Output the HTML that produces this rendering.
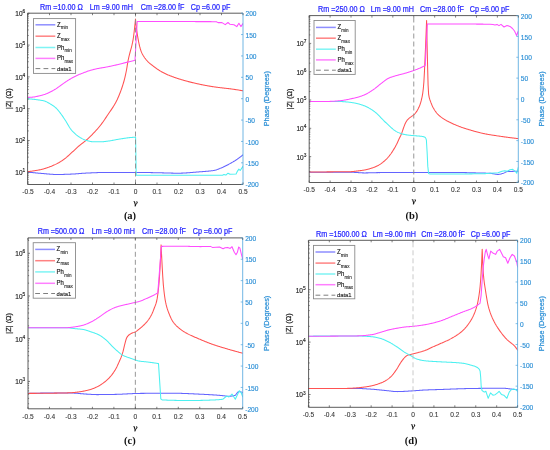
<!DOCTYPE html>
<html><head><meta charset="utf-8"><title>Impedance plots</title>
<style>html,body{margin:0;padding:0;background:#fff;}svg{display:block;}</style></head>
<body><svg width="550" height="450" viewBox="0 0 550 450">
<rect width="550" height="450" fill="#fff"/>
<clipPath id="clipa"><rect x="28" y="12.2" width="215" height="173"/></clipPath>
<g clip-path="url(#clipa)" fill="none" stroke-width="1.05" stroke-linejoin="round" stroke-linecap="round">
<path d="M28,172.1L28.5,172.16L29,172.21L29.5,172.26L30,172.32L30.5,172.37L31,172.42L31.5,172.48L32,172.53L32.5,172.58L33,172.63L33.5,172.68L34,172.73L34.5,172.78L35,172.83L35.5,172.88L36,172.93L36.5,172.97L37,173.02L37.5,173.07L38,173.11L38.5,173.16L39,173.2L39.5,173.25L40,173.29L40.5,173.33L41,173.38L41.5,173.42L42,173.46L42.5,173.5L43,173.54L43.51,173.58L44.01,173.63L44.51,173.67L45.02,173.72L45.52,173.76L46.02,173.81L46.53,173.86L47.03,173.9L47.53,173.95L48.04,173.99L48.54,174.04L49.04,174.08L49.55,174.13L50.05,174.17L50.56,174.21L51.06,174.25L51.56,174.28L52.07,174.32L52.57,174.35L53.07,174.38L53.58,174.41L54.08,174.43L54.58,174.45L55.09,174.47L55.59,174.48L56.09,174.49L56.6,174.5L57.1,174.5L57.62,174.5L58.14,174.5L58.65,174.49L59.17,174.49L59.69,174.48L60.21,174.47L60.73,174.46L61.24,174.45L61.76,174.44L62.28,174.43L62.8,174.42L63.31,174.4L63.83,174.39L64.35,174.37L64.87,174.35L65.39,174.34L65.9,174.32L66.42,174.3L66.94,174.28L67.46,174.26L67.97,174.24L68.49,174.22L69.01,174.2L69.53,174.18L70.05,174.16L70.56,174.14L71.08,174.12L71.6,174.1L72.1,174.08L72.61,174.05L73.11,174.03L73.61,174L74.12,173.97L74.62,173.94L75.12,173.9L75.63,173.87L76.13,173.83L76.63,173.79L77.14,173.75L77.64,173.71L78.14,173.67L78.65,173.63L79.15,173.59L79.66,173.55L80.16,173.51L80.66,173.47L81.17,173.43L81.67,173.39L82.17,173.35L82.68,173.31L83.18,173.28L83.68,173.24L84.19,173.21L84.69,173.18L85.19,173.15L85.7,173.12L86.2,173.1L86.71,173.08L87.21,173.05L87.72,173.03L88.23,173.01L88.73,172.99L89.24,172.96L89.75,172.94L90.26,172.92L90.76,172.89L91.27,172.87L91.78,172.85L92.28,172.83L92.79,172.8L93.3,172.78L93.8,172.76L94.31,172.74L94.82,172.72L95.33,172.7L95.83,172.68L96.34,172.66L96.85,172.64L97.35,172.62L97.86,172.6L98.37,172.58L98.87,172.57L99.38,172.55L99.89,172.53L100.4,172.52L100.9,172.5L101.41,172.49L101.92,172.48L102.42,172.47L102.93,172.46L103.44,172.45L103.94,172.44L104.45,172.43L104.96,172.42L105.47,172.41L105.97,172.41L106.48,172.41L106.99,172.4L107.49,172.4L108,172.4L108.5,172.4L109,172.4L109.5,172.4L110,172.4L110.5,172.4L111,172.4L111.5,172.4L112,172.4L112.5,172.4L113,172.4L113.5,172.4L114,172.4L114.5,172.4L115,172.4L115.5,172.4L116,172.4L116.5,172.4L117,172.4L117.5,172.4L118,172.4L118.5,172.4L119,172.4L119.5,172.4L120,172.4L120.5,172.4L121,172.4L121.5,172.4L122,172.4L122.5,172.4L123,172.4L123.5,172.4L124,172.4L124.5,172.4L125,172.4L125.5,172.4L126,172.4L126.5,172.4L127,172.4L127.5,172.4L128,172.4L128.5,172.4L129,172.4L129.5,172.4L130,172.4L130.5,172.4L131,172.4L131.5,172.4L132,172.4L132.5,172.4L133,172.4L133.5,172.4L134,172.4L134.5,172.4L135,172.4L135.5,172.4L136,172.4L136.5,172.4L137,172.4L137.5,172.4L138,172.4L138.5,172.41L139,172.41L139.5,172.41L140,172.42L140.5,172.42L141,172.43L141.5,172.43L142,172.44L142.5,172.45L143,172.45L143.5,172.46L144,172.47L144.5,172.48L145,172.49L145.5,172.49L146,172.5L146.5,172.51L147,172.52L147.5,172.53L148,172.54L148.5,172.55L149,172.56L149.5,172.57L150,172.58L150.5,172.6L151,172.61L151.5,172.62L152,172.63L152.5,172.64L153,172.65L153.5,172.66L154,172.67L154.5,172.68L155,172.7L155.5,172.71L156,172.72L156.5,172.73L157,172.74L157.5,172.75L158,172.76L158.5,172.77L159,172.78L159.5,172.79L160,172.8L160.5,172.81L161,172.82L161.5,172.83L162,172.84L162.5,172.86L163,172.87L163.5,172.88L164,172.9L164.5,172.91L165,172.93L165.5,172.94L166,172.95L166.5,172.97L167,172.98L167.5,173L168,173.01L168.5,173.03L169,173.04L169.5,173.06L170,173.07L170.5,173.08L171,173.1L171.5,173.11L172,173.12L172.5,173.13L173,173.14L173.5,173.15L174,173.16L174.5,173.17L175,173.18L175.5,173.18L176,173.19L176.5,173.19L177,173.2L177.5,173.2L178,173.2L178.5,173.2L179,173.19L179.5,173.19L180,173.18L180.5,173.17L181,173.16L181.5,173.14L182,173.12L182.5,173.11L183,173.08L183.5,173.06L184,173.04L184.5,173.01L185,172.98L185.5,172.95L186,172.92L186.5,172.89L187,172.86L187.5,172.82L188,172.79L188.5,172.75L189,172.71L189.5,172.68L190,172.64L190.5,172.6L191,172.56L191.5,172.51L192,172.47L192.5,172.43L193,172.39L193.5,172.34L194,172.3L194.5,172.26L195,172.22L195.5,172.17L196,172.13L196.5,172.09L197,172.04L197.5,172L198,171.96L198.5,171.92L199,171.88L199.5,171.84L200,171.8L200.5,171.76L201.01,171.72L201.51,171.69L202.01,171.65L202.52,171.61L203.02,171.58L203.53,171.54L204.03,171.5L204.53,171.46L205.04,171.43L205.54,171.39L206.04,171.35L206.55,171.31L207.05,171.26L207.56,171.22L208.06,171.17L208.56,171.12L209.07,171.07L209.57,171.02L210.07,170.97L210.58,170.91L211.08,170.85L211.59,170.79L212.09,170.72L212.59,170.65L213.1,170.58L213.6,170.5L214.11,170.41L214.62,170.3L215.14,170.18L215.65,170.04L216.16,169.88L216.68,169.72L217.19,169.54L217.7,169.36L218.21,169.16L218.72,168.96L219.24,168.75L219.75,168.55L220.26,168.33L220.78,168.12L221.29,167.91L221.8,167.7L222.31,167.49L222.83,167.27L223.34,167.04L223.85,166.8L224.36,166.56L224.88,166.31L225.39,166.06L225.9,165.8L226.41,165.53L226.93,165.26L227.44,164.99L227.95,164.72L228.46,164.44L228.97,164.16L229.49,163.88L230,163.6L230.52,163.31L231.05,163.02L231.57,162.72L232.09,162.42L232.62,162.12L233.14,161.81L233.66,161.5L234.18,161.18L234.71,160.86L235.23,160.53L235.75,160.19L236.28,159.85L236.8,159.5L237.32,159.15L237.83,158.79L238.35,158.42L238.87,158.05L239.38,157.66L239.9,157.27L240.42,156.88L240.93,156.47L241.45,156.06L241.97,155.65L242.48,155.23L243,154.8" stroke="#6363ff"/>
<path d="M28,171.6L28.52,171.54L29.04,171.48L29.56,171.42L30.09,171.36L30.61,171.29L31.13,171.22L31.65,171.15L32.17,171.08L32.69,171L33.21,170.92L33.74,170.84L34.26,170.76L34.78,170.68L35.3,170.6L35.81,170.52L36.33,170.43L36.84,170.34L37.36,170.26L37.87,170.17L38.39,170.07L38.9,169.98L39.41,169.88L39.93,169.77L40.44,169.67L40.96,169.56L41.47,169.44L41.99,169.32L42.5,169.2L43.02,169.07L43.54,168.93L44.06,168.78L44.59,168.62L45.11,168.46L45.63,168.29L46.15,168.12L46.67,167.94L47.19,167.76L47.71,167.57L48.24,167.38L48.76,167.19L49.28,167L49.8,166.8L50.32,166.6L50.84,166.4L51.36,166.2L51.89,165.99L52.41,165.77L52.93,165.55L53.45,165.33L53.97,165.1L54.49,164.87L55.01,164.62L55.54,164.38L56.06,164.13L56.58,163.87L57.1,163.6L57.62,163.33L58.14,163.04L58.66,162.75L59.19,162.45L59.71,162.14L60.23,161.82L60.75,161.5L61.27,161.16L61.79,160.82L62.31,160.47L62.84,160.11L63.36,159.75L63.88,159.38L64.4,159L64.91,158.61L65.43,158.21L65.94,157.79L66.46,157.36L66.97,156.91L67.49,156.46L68,156L68.51,155.53L69.03,155.06L69.54,154.58L70.06,154.11L70.57,153.63L71.09,153.16L71.6,152.7L72.12,152.23L72.64,151.75L73.16,151.27L73.69,150.78L74.21,150.29L74.73,149.8L75.25,149.31L75.77,148.82L76.29,148.33L76.81,147.85L77.34,147.38L77.86,146.91L78.38,146.45L78.9,146L79.42,145.56L79.94,145.14L80.46,144.72L80.99,144.31L81.51,143.91L82.03,143.51L82.55,143.12L83.07,142.72L83.59,142.32L84.11,141.91L84.64,141.5L85.16,141.08L85.68,140.65L86.2,140.2L86.72,139.74L87.24,139.28L87.76,138.81L88.29,138.33L88.81,137.85L89.33,137.36L89.85,136.86L90.37,136.35L90.89,135.84L91.41,135.33L91.94,134.8L92.46,134.27L92.98,133.74L93.5,133.2L94.01,132.66L94.53,132.12L95.04,131.57L95.56,131.01L96.07,130.45L96.59,129.88L97.1,129.31L97.61,128.72L98.13,128.13L98.64,127.52L99.16,126.91L99.67,126.28L100.19,125.65L100.7,125L101.22,124.33L101.74,123.64L102.26,122.93L102.79,122.2L103.31,121.47L103.83,120.72L104.35,119.96L104.87,119.19L105.39,118.41L105.91,117.63L106.44,116.85L106.96,116.07L107.48,115.28L108,114.5L108.5,113.76L109,113.02L109.5,112.29L110,111.57L110.5,110.84L111,110.11L111.5,109.38L112,108.64L112.5,107.88L113,107.11L113.5,106.32L114,105.51L114.5,104.68L115,103.81L115.5,102.92L116,102L116.5,101.03L117,100.02L117.5,98.95L118,97.84L118.5,96.69L119,95.5L119.5,94.27L120,93L120.5,91.7L121,90.36L121.5,88.97L122,87.52L122.5,86.01L123,84.43L123.5,82.76L124,81L124.5,79.11L125,77.06L125.5,74.85L126,72.5L126.5,70L127,67.08L127.5,63.88L128,61L128.5,58.63L129,56.49L129.5,54.48L130,52.5L130.5,50.62L131,48.86L131.5,47.05L132,45L132.5,42.67L133,40.04L133.5,37L134.1,32.39L134.7,27L135.5,19L136.1,25.18L136.7,30.3L137.35,34.6L138,38.3L138.65,41.89L139.3,45L139.8,46.97L140.3,48.75L140.8,50.34L141.3,51.7L141.8,52.88L142.3,53.92L142.8,54.85L143.3,55.7L143.8,56.49L144.3,57.25L144.8,57.96L145.3,58.63L145.8,59.27L146.3,59.88L146.8,60.46L147.3,61L147.84,61.56L148.38,62.09L148.92,62.6L149.46,63.08L150,63.55L150.54,64L151.08,64.43L151.62,64.86L152.16,65.28L152.7,65.7L153.22,66.1L153.73,66.49L154.25,66.88L154.77,67.26L155.28,67.64L155.8,68.02L156.32,68.39L156.83,68.76L157.35,69.11L157.87,69.47L158.38,69.81L158.9,70.15L159.42,70.48L159.93,70.8L160.45,71.11L160.97,71.42L161.48,71.71L162,72L162.5,72.27L163,72.53L163.5,72.79L164,73.04L164.5,73.29L165,73.54L165.5,73.78L166,74.01L166.5,74.24L167,74.47L167.5,74.69L168,74.9L168.5,75.11L169,75.32L169.5,75.53L170,75.73L170.5,75.92L171,76.11L171.5,76.3L172,76.48L172.5,76.67L173,76.85L173.5,77.03L174,77.21L174.5,77.38L175,77.56L175.5,77.73L176,77.9L176.5,78.07L177,78.23L177.5,78.4L178,78.56L178.5,78.72L179,78.88L179.5,79.04L180,79.2L180.5,79.35L181,79.51L181.5,79.66L182,79.81L182.5,79.96L183,80.11L183.5,80.25L184,80.4L184.5,80.54L185,80.68L185.5,80.82L186,80.96L186.5,81.09L187,81.23L187.5,81.36L188,81.49L188.5,81.62L189,81.75L189.5,81.88L190,82.01L190.5,82.13L191,82.26L191.5,82.38L192,82.5L192.5,82.62L193,82.74L193.5,82.86L194,82.97L194.5,83.09L195,83.21L195.5,83.32L196,83.44L196.5,83.55L197,83.66L197.5,83.77L198,83.88L198.5,83.99L199,84.1L199.5,84.21L200,84.31L200.5,84.42L201,84.52L201.5,84.62L202,84.73L202.5,84.83L203,84.93L203.5,85.03L204,85.12L204.5,85.22L205,85.32L205.5,85.41L206,85.51L206.5,85.6L207,85.69L207.5,85.78L208,85.87L208.5,85.96L209,86.05L209.5,86.13L210,86.22L210.5,86.3L211,86.38L211.5,86.46L212,86.54L212.5,86.62L213,86.7L213.5,86.78L214.01,86.85L214.51,86.93L215.02,87L215.52,87.07L216.03,87.14L216.53,87.2L217.04,87.27L217.54,87.34L218.05,87.4L218.55,87.46L219.06,87.53L219.56,87.59L220.07,87.65L220.57,87.71L221.08,87.77L221.58,87.82L222.09,87.88L222.59,87.94L223.1,88L223.6,88.06L224.11,88.11L224.61,88.17L225.12,88.23L225.62,88.29L226.13,88.34L226.63,88.4L227.14,88.46L227.64,88.52L228.15,88.58L228.65,88.64L229.16,88.7L229.66,88.76L230.17,88.83L230.67,88.89L231.18,88.96L231.68,89.02L232.19,89.09L232.69,89.16L233.2,89.23L233.7,89.3L234.22,89.37L234.73,89.45L235.25,89.53L235.77,89.61L236.28,89.69L236.8,89.77L237.32,89.85L237.83,89.93L238.35,90.02L238.87,90.1L239.38,90.19L239.9,90.27L240.42,90.36L240.93,90.45L241.45,90.53L241.97,90.62L242.48,90.71L243,90.8" stroke="#ff5252"/>
<path d="M28,98.8L28.5,98.83L29.01,98.86L29.51,98.89L30.02,98.93L30.52,98.97L31.03,99.01L31.53,99.06L32.04,99.11L32.54,99.16L33.05,99.21L33.55,99.27L34.05,99.33L34.56,99.39L35.06,99.45L35.57,99.51L36.07,99.58L36.58,99.65L37.08,99.72L37.59,99.79L38.09,99.86L38.6,99.93L39.1,100L39.61,100.07L40.12,100.15L40.63,100.23L41.14,100.32L41.65,100.41L42.15,100.5L42.66,100.6L43.17,100.71L43.68,100.83L44.19,100.96L44.7,101.1L45.2,101.26L45.7,101.45L46.2,101.66L46.7,101.9L47.2,102.15L47.7,102.43L48.2,102.71L48.7,103L49.2,103.3L49.7,103.6L50.2,103.9L50.73,104.21L51.25,104.53L51.78,104.86L52.31,105.2L52.84,105.55L53.36,105.91L53.89,106.29L54.42,106.69L54.95,107.1L55.47,107.54L56,108L56.5,108.47L57,108.99L57.5,109.54L58,110.12L58.5,110.73L59,111.37L59.5,112.01L60,112.67L60.5,113.34L61,114L61.51,114.69L62.02,115.41L62.54,116.15L63.05,116.9L63.56,117.67L64.07,118.45L64.59,119.22L65.1,120L65.6,120.77L66.1,121.58L66.6,122.42L67.1,123.26L67.6,124.12L68.1,124.97L68.6,125.82L69.1,126.65L69.6,127.45L70.1,128.21L70.6,128.93L71.1,129.6L71.6,130.2L72.12,130.79L72.64,131.35L73.16,131.9L73.69,132.43L74.21,132.94L74.73,133.43L75.25,133.9L75.77,134.36L76.29,134.79L76.81,135.21L77.34,135.61L77.86,135.99L78.38,136.35L78.9,136.7L79.42,137.03L79.94,137.36L80.46,137.69L80.99,138L81.51,138.31L82.03,138.6L82.55,138.89L83.07,139.15L83.59,139.41L84.11,139.65L84.64,139.86L85.16,140.06L85.68,140.24L86.2,140.4L86.72,140.55L87.24,140.69L87.76,140.83L88.29,140.97L88.81,141.11L89.33,141.24L89.85,141.35L90.37,141.46L90.89,141.56L91.41,141.64L91.94,141.71L92.46,141.76L92.98,141.79L93.5,141.8L94.01,141.8L94.53,141.8L95.04,141.8L95.56,141.8L96.07,141.8L96.59,141.8L97.1,141.8L97.61,141.8L98.13,141.8L98.64,141.8L99.16,141.8L99.67,141.8L100.19,141.8L100.7,141.8L101.22,141.79L101.74,141.78L102.26,141.75L102.79,141.71L103.31,141.67L103.83,141.62L104.35,141.56L104.87,141.5L105.39,141.43L105.91,141.37L106.44,141.3L106.96,141.23L107.48,141.16L108,141.1L108.5,141.04L109,140.97L109.5,140.9L110,140.82L110.5,140.74L111,140.65L111.5,140.57L112,140.47L112.5,140.38L113,140.29L113.5,140.19L114,140.1L114.5,140L115,139.9L115.5,139.8L116,139.71L116.5,139.61L117,139.52L117.5,139.42L118,139.33L118.5,139.24L119,139.16L119.5,139.08L120,139L120.5,138.92L121,138.85L121.5,138.77L122,138.69L122.5,138.61L123,138.54L123.5,138.46L124,138.38L124.5,138.3L125,138.23L125.5,138.16L126,138.08L126.5,138.01L127,137.94L127.5,137.88L128,137.81L128.5,137.75L129,137.69L129.5,137.63L130,137.58L130.5,137.53L131,137.48L131.5,137.44L132,137.4L132.51,137.36L133.03,137.33L133.54,137.3L134.06,137.27L134.57,137.24L135.09,137.22L135.6,137.2L136.2,175.2L136.71,175.2L137.21,175.21L137.72,175.21L138.23,175.21L138.73,175.22L139.24,175.22L139.74,175.22L140.25,175.23L140.76,175.23L141.26,175.23L141.77,175.24L142.28,175.24L142.78,175.24L143.29,175.24L143.8,175.25L144.3,175.25L144.81,175.25L145.31,175.26L145.82,175.26L146.33,175.26L146.83,175.26L147.34,175.27L147.85,175.27L148.35,175.27L148.86,175.27L149.37,175.28L149.87,175.28L150.38,175.28L150.89,175.28L151.39,175.28L151.9,175.29L152.4,175.29L152.91,175.29L153.42,175.29L153.92,175.29L154.43,175.29L154.94,175.29L155.44,175.3L155.95,175.3L156.46,175.3L156.96,175.3L157.47,175.3L157.97,175.3L158.48,175.3L158.99,175.3L159.49,175.3L160,175.3L160.5,175.3L161,175.3L161.5,175.3L162,175.3L162.5,175.3L163,175.3L163.5,175.3L164,175.3L164.5,175.3L165,175.3L165.5,175.29L166,175.29L166.5,175.29L167,175.29L167.5,175.29L168,175.29L168.5,175.29L169,175.29L169.5,175.29L170,175.28L170.5,175.28L171,175.28L171.5,175.28L172,175.28L172.5,175.28L173,175.28L173.5,175.27L174,175.27L174.5,175.27L175,175.27L175.5,175.27L176,175.26L176.5,175.26L177,175.26L177.5,175.26L178,175.26L178.5,175.26L179,175.25L179.5,175.25L180,175.25L180.5,175.25L181,175.25L181.5,175.24L182,175.24L182.5,175.24L183,175.24L183.5,175.24L184,175.24L184.5,175.23L185,175.23L185.5,175.23L186,175.23L186.5,175.23L187,175.22L187.5,175.22L188,175.22L188.5,175.22L189,175.22L189.5,175.22L190,175.22L190.5,175.21L191,175.21L191.5,175.21L192,175.21L192.5,175.21L193,175.21L193.5,175.21L194,175.21L194.5,175.21L195,175.2L195.5,175.2L196,175.2L196.5,175.2L197,175.2L197.5,175.2L198,175.2L198.5,175.2L199,175.2L199.5,175.2L200,175.2L200.5,175.2L201.01,175.2L201.51,175.2L202.01,175.2L202.52,175.2L203.02,175.2L203.53,175.2L204.03,175.2L204.53,175.2L205.04,175.2L205.54,175.2L206.04,175.2L206.55,175.2L207.05,175.2L207.56,175.2L208.06,175.2L208.56,175.2L209.07,175.2L209.57,175.2L210.07,175.2L210.58,175.2L211.08,175.2L211.59,175.2L212.09,175.2L212.59,175.2L213.1,175.2L213.6,175.2L214.12,175.2L214.65,175.2L215.17,175.2L215.69,175.2L216.22,175.2L216.74,175.2L217.26,175.2L217.79,175.2L218.31,175.2L218.84,175.2L219.36,175.2L219.88,175.2L220.41,175.2L220.93,175.2L221.45,175.2L221.98,175.2L222.5,175.2L223.9,174.6L225.9,175.1L228,173.2L230,174.3L236.1,173.9L237.5,171.1L238.9,169.1L240.2,170.5L241.6,168.4L243,166.4" stroke="#4cf0f0"/>
<path d="M28,97.4L28.51,97.39L29.02,97.38L29.53,97.35L30.04,97.32L30.55,97.29L31.05,97.25L31.56,97.2L32.07,97.16L32.58,97.11L33.09,97.05L33.6,97L34.1,96.94L34.6,96.87L35.1,96.78L35.6,96.69L36.1,96.59L36.6,96.48L37.1,96.37L37.6,96.25L38.1,96.13L38.6,96.02L39.1,95.9L39.61,95.78L40.12,95.66L40.63,95.54L41.14,95.42L41.65,95.29L42.15,95.16L42.66,95.02L43.17,94.87L43.68,94.72L44.19,94.57L44.7,94.4L45.2,94.23L45.7,94.04L46.2,93.84L46.7,93.64L47.2,93.42L47.7,93.19L48.2,92.96L48.7,92.73L49.2,92.49L49.7,92.24L50.2,92L50.71,91.75L51.22,91.49L51.73,91.23L52.24,90.96L52.75,90.68L53.25,90.4L53.76,90.11L54.27,89.82L54.78,89.52L55.29,89.21L55.8,88.9L56.3,88.58L56.8,88.25L57.3,87.9L57.8,87.55L58.3,87.19L58.8,86.82L59.3,86.45L59.8,86.08L60.3,85.72L60.8,85.36L61.3,85L61.81,84.64L62.32,84.28L62.83,83.92L63.34,83.55L63.85,83.19L64.35,82.83L64.86,82.47L65.37,82.12L65.88,81.77L66.39,81.43L66.9,81.1L67.4,80.78L67.9,80.46L68.4,80.15L68.9,79.84L69.4,79.53L69.9,79.23L70.4,78.94L70.9,78.64L71.4,78.36L71.9,78.08L72.4,77.8L72.91,77.52L73.42,77.25L73.93,76.98L74.44,76.72L74.95,76.45L75.45,76.2L75.96,75.95L76.47,75.7L76.98,75.46L77.49,75.23L78,75L78.51,74.78L79.02,74.57L79.53,74.36L80.04,74.16L80.55,73.96L81.05,73.77L81.56,73.57L82.07,73.38L82.58,73.19L83.09,73L83.6,72.8L84.15,72.58L84.7,72.36L85.25,72.14L85.8,71.91L86.35,71.7L86.9,71.49L87.45,71.29L88,71.1L88.5,70.94L89,70.78L89.5,70.63L90,70.48L90.5,70.33L91,70.18L91.5,70.04L92,69.9L92.5,69.77L93,69.64L93.5,69.51L94,69.38L94.5,69.26L95,69.14L95.5,69.02L96,68.91L96.5,68.8L97,68.69L97.51,68.59L98.02,68.49L98.52,68.4L99.03,68.3L99.53,68.21L100.03,68.13L100.54,68.04L101.05,67.96L101.55,67.87L102.05,67.79L102.56,67.71L103.06,67.62L103.57,67.54L104.07,67.45L104.58,67.37L105.08,67.28L105.59,67.19L106.09,67.1L106.6,67L107.12,66.9L107.64,66.79L108.17,66.69L108.69,66.59L109.21,66.48L109.73,66.37L110.26,66.26L110.78,66.15L111.3,66.04L111.82,65.93L112.34,65.82L112.87,65.7L113.39,65.59L113.91,65.47L114.43,65.36L114.96,65.24L115.48,65.12L116,65L116.5,64.88L117,64.77L117.5,64.65L118,64.53L118.5,64.4L119,64.28L119.5,64.15L120,64.03L120.5,63.9L121,63.77L121.5,63.64L122,63.52L122.5,63.39L123,63.26L123.5,63.13L124,63L124.5,62.88L125,62.75L125.5,62.62L126,62.5L126.5,62.38L127,62.25L127.5,62.13L128,62.01L128.5,61.88L129,61.76L129.5,61.64L130,61.52L130.5,61.39L131,61.27L131.5,61.15L132,61.03L132.5,60.91L133,60.78L133.5,60.66L134,60.54L134.5,60.42L135,60.3L137.2,21.5L137.71,21.5L138.21,21.5L138.72,21.5L139.23,21.5L139.73,21.5L140.24,21.5L140.75,21.5L141.25,21.5L141.76,21.5L142.27,21.5L142.77,21.5L143.28,21.5L143.79,21.5L144.29,21.5L144.8,21.5L145.31,21.5L145.81,21.5L146.32,21.5L146.83,21.5L147.33,21.5L147.84,21.5L148.35,21.5L148.85,21.5L149.36,21.5L149.87,21.5L150.37,21.5L150.88,21.5L151.39,21.5L151.89,21.5L152.4,21.5L152.91,21.5L153.41,21.5L153.92,21.5L154.43,21.5L154.93,21.5L155.44,21.5L155.95,21.5L156.45,21.5L156.96,21.5L157.47,21.5L157.97,21.5L158.48,21.5L158.99,21.5L159.49,21.5L160,21.5L160.5,21.5L161,21.5L161.5,21.5L162,21.5L162.5,21.5L163,21.5L163.5,21.5L164,21.5L164.5,21.5L165,21.5L165.5,21.51L166,21.51L166.5,21.51L167,21.51L167.5,21.51L168,21.51L168.5,21.51L169,21.51L169.5,21.51L170,21.52L170.5,21.52L171,21.52L171.5,21.52L172,21.52L172.5,21.52L173,21.52L173.5,21.53L174,21.53L174.5,21.53L175,21.53L175.5,21.53L176,21.54L176.5,21.54L177,21.54L177.5,21.54L178,21.54L178.5,21.54L179,21.55L179.5,21.55L180,21.55L180.5,21.55L181,21.55L181.5,21.56L182,21.56L182.5,21.56L183,21.56L183.5,21.56L184,21.56L184.5,21.57L185,21.57L185.5,21.57L186,21.57L186.5,21.57L187,21.58L187.5,21.58L188,21.58L188.5,21.58L189,21.58L189.5,21.58L190,21.58L190.5,21.59L191,21.59L191.5,21.59L192,21.59L192.5,21.59L193,21.59L193.5,21.59L194,21.59L194.5,21.59L195,21.6L195.5,21.6L196,21.6L196.5,21.6L197,21.6L197.5,21.6L198,21.6L198.5,21.6L199,21.6L199.5,21.6L200,21.6L200.5,21.6L201,21.6L201.5,21.6L202,21.6L202.5,21.6L203,21.6L203.5,21.6L204,21.6L204.5,21.6L205,21.6L205.5,21.6L206,21.6L206.5,21.6L207,21.6L207.5,21.6L208,21.6L208.53,21.6L209.05,21.6L209.57,21.61L210.1,21.62L210.62,21.63L211.15,21.64L211.68,21.65L212.2,21.66L212.72,21.68L213.25,21.69L213.78,21.71L214.3,21.73L214.83,21.74L215.35,21.76L215.88,21.78L216.4,21.8L218,22.6L222,22.6L225.2,24.6L228,22.5L230,24.3L234,24.8L236.8,26.6L238.9,23.2L240.9,26.6L243,23.5" stroke="#ff4dff"/>
</g>
<line x1="135.5" y1="184.5" x2="135.5" y2="13.2" stroke="#8c8c8c" stroke-width="0.9" stroke-dasharray="5,3"/>
<path d="M27.6,13.2 V184.5 H243 M27.6,13.2 H243" fill="none" stroke="#4a4a4a" stroke-width="0.9"/>
<line x1="243" y1="13.2" x2="243" y2="184.5" stroke="#4da3dc" stroke-width="0.8"/>
<text x="28" y="194" font-size="6.6" fill="#333333" text-anchor="middle" font-family='"Liberation Sans", Arial, Helvetica, sans-serif' stroke="#333333" stroke-width="0.08">-0.5</text>
<text x="49.5" y="194" font-size="6.6" fill="#333333" text-anchor="middle" font-family='"Liberation Sans", Arial, Helvetica, sans-serif' stroke="#333333" stroke-width="0.08">-0.4</text>
<text x="71" y="194" font-size="6.6" fill="#333333" text-anchor="middle" font-family='"Liberation Sans", Arial, Helvetica, sans-serif' stroke="#333333" stroke-width="0.08">-0.3</text>
<text x="92.5" y="194" font-size="6.6" fill="#333333" text-anchor="middle" font-family='"Liberation Sans", Arial, Helvetica, sans-serif' stroke="#333333" stroke-width="0.08">-0.2</text>
<text x="114" y="194" font-size="6.6" fill="#333333" text-anchor="middle" font-family='"Liberation Sans", Arial, Helvetica, sans-serif' stroke="#333333" stroke-width="0.08">-0.1</text>
<text x="135.5" y="194" font-size="6.6" fill="#333333" text-anchor="middle" font-family='"Liberation Sans", Arial, Helvetica, sans-serif' stroke="#333333" stroke-width="0.08">0</text>
<text x="157" y="194" font-size="6.6" fill="#333333" text-anchor="middle" font-family='"Liberation Sans", Arial, Helvetica, sans-serif' stroke="#333333" stroke-width="0.08">0.1</text>
<text x="178.5" y="194" font-size="6.6" fill="#333333" text-anchor="middle" font-family='"Liberation Sans", Arial, Helvetica, sans-serif' stroke="#333333" stroke-width="0.08">0.2</text>
<text x="200" y="194" font-size="6.6" fill="#333333" text-anchor="middle" font-family='"Liberation Sans", Arial, Helvetica, sans-serif' stroke="#333333" stroke-width="0.08">0.3</text>
<text x="221.5" y="194" font-size="6.6" fill="#333333" text-anchor="middle" font-family='"Liberation Sans", Arial, Helvetica, sans-serif' stroke="#333333" stroke-width="0.08">0.4</text>
<text x="243" y="194" font-size="6.6" fill="#333333" text-anchor="middle" font-family='"Liberation Sans", Arial, Helvetica, sans-serif' stroke="#333333" stroke-width="0.08">0.5</text>
<path d="M28,184.5v-2M28,13.2v2M49.5,184.5v-2M49.5,13.2v2M71,184.5v-2M71,13.2v2M92.5,184.5v-2M92.5,13.2v2M114,184.5v-2M114,13.2v2M135.5,184.5v-2M135.5,13.2v2M157,184.5v-2M157,13.2v2M178.5,184.5v-2M178.5,13.2v2M200,184.5v-2M200,13.2v2M221.5,184.5v-2M221.5,13.2v2M243,184.5v-2M243,13.2v2M27.6,181.87h1.1M27.6,179.35h1.1M27.6,177.23h1.1M27.6,175.38h1.1M27.6,173.76h1.1M27.6,172.3h2.0M27.6,162.73h1.1M27.6,157.13h1.1M27.6,153.15h1.1M27.6,150.07h1.1M27.6,147.55h1.1M27.6,145.43h1.1M27.6,143.58h1.1M27.6,141.96h1.1M27.6,140.5h2.0M27.6,130.93h1.1M27.6,125.33h1.1M27.6,121.35h1.1M27.6,118.27h1.1M27.6,115.75h1.1M27.6,113.63h1.1M27.6,111.78h1.1M27.6,110.16h1.1M27.6,108.7h2.0M27.6,99.13h1.1M27.6,93.53h1.1M27.6,89.55h1.1M27.6,86.47h1.1M27.6,83.95h1.1M27.6,81.83h1.1M27.6,79.98h1.1M27.6,78.36h1.1M27.6,76.9h2.0M27.6,67.33h1.1M27.6,61.73h1.1M27.6,57.75h1.1M27.6,54.67h1.1M27.6,52.15h1.1M27.6,50.03h1.1M27.6,48.18h1.1M27.6,46.56h1.1M27.6,45.1h2.0M27.6,35.53h1.1M27.6,29.93h1.1M27.6,25.95h1.1M27.6,22.87h1.1M27.6,20.35h1.1M27.6,18.23h1.1M27.6,16.38h1.1M27.6,14.76h1.1M27.6,13.3h2.0" stroke="#4a4a4a" stroke-width="0.7" fill="none"/>
<text x="25.2" y="175.2" font-size="6.5" fill="#222222" stroke="#222222" stroke-width="0.15" text-anchor="end" font-family='"Liberation Sans", Arial, Helvetica, sans-serif'>10<tspan font-size="4.8" dy="-2.9">1</tspan></text>
<text x="25.2" y="143.4" font-size="6.5" fill="#222222" stroke="#222222" stroke-width="0.15" text-anchor="end" font-family='"Liberation Sans", Arial, Helvetica, sans-serif'>10<tspan font-size="4.8" dy="-2.9">2</tspan></text>
<text x="25.2" y="111.6" font-size="6.5" fill="#222222" stroke="#222222" stroke-width="0.15" text-anchor="end" font-family='"Liberation Sans", Arial, Helvetica, sans-serif'>10<tspan font-size="4.8" dy="-2.9">3</tspan></text>
<text x="25.2" y="79.8" font-size="6.5" fill="#222222" stroke="#222222" stroke-width="0.15" text-anchor="end" font-family='"Liberation Sans", Arial, Helvetica, sans-serif'>10<tspan font-size="4.8" dy="-2.9">4</tspan></text>
<text x="25.2" y="48" font-size="6.5" fill="#222222" stroke="#222222" stroke-width="0.15" text-anchor="end" font-family='"Liberation Sans", Arial, Helvetica, sans-serif'>10<tspan font-size="4.8" dy="-2.9">5</tspan></text>
<text x="25.2" y="16.2" font-size="6.5" fill="#222222" stroke="#222222" stroke-width="0.15" text-anchor="end" font-family='"Liberation Sans", Arial, Helvetica, sans-serif'>10<tspan font-size="4.8" dy="-2.9">6</tspan></text>
<text x="245.5" y="187.3" font-size="6.6" fill="#2b8fd6" text-anchor="start" font-family='"Liberation Sans", Arial, Helvetica, sans-serif' stroke="#2b8fd6" stroke-width="0.15">-200</text>
<text x="245.5" y="165.92" font-size="6.6" fill="#2b8fd6" text-anchor="start" font-family='"Liberation Sans", Arial, Helvetica, sans-serif' stroke="#2b8fd6" stroke-width="0.15">-150</text>
<text x="245.5" y="144.55" font-size="6.6" fill="#2b8fd6" text-anchor="start" font-family='"Liberation Sans", Arial, Helvetica, sans-serif' stroke="#2b8fd6" stroke-width="0.15">-100</text>
<text x="245.5" y="123.17" font-size="6.6" fill="#2b8fd6" text-anchor="start" font-family='"Liberation Sans", Arial, Helvetica, sans-serif' stroke="#2b8fd6" stroke-width="0.15">-50</text>
<text x="245.5" y="101.8" font-size="6.6" fill="#2b8fd6" text-anchor="start" font-family='"Liberation Sans", Arial, Helvetica, sans-serif' stroke="#2b8fd6" stroke-width="0.15">0</text>
<text x="245.5" y="80.42" font-size="6.6" fill="#2b8fd6" text-anchor="start" font-family='"Liberation Sans", Arial, Helvetica, sans-serif' stroke="#2b8fd6" stroke-width="0.15">50</text>
<text x="245.5" y="59.05" font-size="6.6" fill="#2b8fd6" text-anchor="start" font-family='"Liberation Sans", Arial, Helvetica, sans-serif' stroke="#2b8fd6" stroke-width="0.15">100</text>
<text x="245.5" y="37.67" font-size="6.6" fill="#2b8fd6" text-anchor="start" font-family='"Liberation Sans", Arial, Helvetica, sans-serif' stroke="#2b8fd6" stroke-width="0.15">150</text>
<text x="245.5" y="16.3" font-size="6.6" fill="#2b8fd6" text-anchor="start" font-family='"Liberation Sans", Arial, Helvetica, sans-serif' stroke="#2b8fd6" stroke-width="0.15">200</text>
<path d="M243,184.2h-2M243,162.82h-2M243,141.45h-2M243,120.07h-2M243,98.7h-2M243,77.32h-2M243,55.95h-2M243,34.57h-2M243,13.2h-2" stroke="#4da3dc" stroke-width="0.7" fill="none"/>
<text transform="translate(40.1,9.9) scale(0.985,1.12)" font-size="7.3" fill="#2a2aff" stroke="#2a2aff" stroke-width="0.22" font-family='"Liberation Sans", Arial, Helvetica, sans-serif'>Rm =10.00 Ω</text>
<text transform="translate(89.7,9.9) scale(0.985,1.12)" font-size="7.3" fill="#2a2aff" stroke="#2a2aff" stroke-width="0.22" font-family='"Liberation Sans", Arial, Helvetica, sans-serif'>Lm =9.00 mH</text>
<text transform="translate(140.7,9.9) scale(0.985,1.12)" font-size="7.3" fill="#2a2aff" stroke="#2a2aff" stroke-width="0.22" font-family='"Liberation Sans", Arial, Helvetica, sans-serif'>Cm =28.00 fF</text>
<text transform="translate(190.7,9.9) scale(0.985,1.12)" font-size="7.3" fill="#2a2aff" stroke="#2a2aff" stroke-width="0.22" font-family='"Liberation Sans", Arial, Helvetica, sans-serif'>Cp =6.00 pF</text>
<text transform="translate(10.6,98.7) rotate(-90)" font-size="7.3" fill="#222222" stroke="#222222" stroke-width="0.22" text-anchor="middle" font-family='"Liberation Sans", Arial, Helvetica, sans-serif'>|Z| (Ω)</text>
<text transform="translate(269,98.7) rotate(-90)" font-size="7.3" fill="#2b8fd6" stroke="#2b8fd6" stroke-width="0.22" text-anchor="middle" font-family='"Liberation Sans", Arial, Helvetica, sans-serif'>Phase (Degrees)</text>
<text x="135.5" y="205.1" font-size="7.2" fill="#1a1a1a" text-anchor="middle" font-family='"DejaVu Serif", "Liberation Serif", serif' font-weight="bold">γ</text>
<text x="130" y="219" font-size="10.5" fill="#111" text-anchor="middle" font-family='"Liberation Serif", "Times New Roman", serif' font-weight="bold">(a)</text>
<rect x="33.5" y="18.6" width="42.1" height="54.8" fill="#fff" stroke="#8a8a8a" stroke-width="0.9"/>
<line x1="35.5" y1="24.8" x2="55.3" y2="24.8" stroke="#6363ff" stroke-width="1.5" stroke-opacity="0.72"/>
<text transform="translate(56.9,26.8) scale(1,1.2)" font-size="6.0" fill="#222222" stroke="#222222" stroke-width="0.16" font-family='"Liberation Sans", Arial, Helvetica, sans-serif'>Z</text>
<text x="60.77" y="29.4" font-size="4.6" fill="#222222" stroke="#222222" stroke-width="0.1" font-family='"Liberation Sans", Arial, Helvetica, sans-serif'>min</text>
<line x1="35.5" y1="36.2" x2="55.3" y2="36.2" stroke="#ff5252" stroke-width="1.5" stroke-opacity="0.72"/>
<text transform="translate(56.9,38.2) scale(1,1.2)" font-size="6.0" fill="#222222" stroke="#222222" stroke-width="0.16" font-family='"Liberation Sans", Arial, Helvetica, sans-serif'>Z</text>
<text x="60.77" y="40.8" font-size="4.6" fill="#222222" stroke="#222222" stroke-width="0.1" font-family='"Liberation Sans", Arial, Helvetica, sans-serif'>max</text>
<line x1="35.5" y1="47.5" x2="55.3" y2="47.5" stroke="#4cf0f0" stroke-width="1.5" stroke-opacity="0.72"/>
<text transform="translate(56.9,49.5) scale(1,1.2)" font-size="6.0" fill="#222222" stroke="#222222" stroke-width="0.16" font-family='"Liberation Sans", Arial, Helvetica, sans-serif'>Ph</text>
<text x="64.44" y="52.1" font-size="4.6" fill="#222222" stroke="#222222" stroke-width="0.1" font-family='"Liberation Sans", Arial, Helvetica, sans-serif'>min</text>
<line x1="35.5" y1="58.4" x2="55.3" y2="58.4" stroke="#ff4dff" stroke-width="1.5" stroke-opacity="0.72"/>
<text transform="translate(56.9,60.4) scale(1,1.2)" font-size="6.0" fill="#222222" stroke="#222222" stroke-width="0.16" font-family='"Liberation Sans", Arial, Helvetica, sans-serif'>Ph</text>
<text x="64.44" y="63" font-size="4.6" fill="#222222" stroke="#222222" stroke-width="0.1" font-family='"Liberation Sans", Arial, Helvetica, sans-serif'>max</text>
<line x1="35.5" y1="68.6" x2="55.3" y2="68.6" stroke="#707070" stroke-width="0.9" stroke-dasharray="4.8,3.2"/>
<text x="56.9" y="70.8" font-size="5.9" fill="#222222" text-anchor="start" font-family='"Liberation Sans", Arial, Helvetica, sans-serif' stroke="#222222" stroke-width="0.12">data1</text>
<clipPath id="clipb"><rect x="309.2" y="14.6" width="209.1" height="168.7"/></clipPath>
<g clip-path="url(#clipb)" fill="none" stroke-width="1.05" stroke-linejoin="round" stroke-linecap="round">
<path d="M309.2,172.2L309.7,172.2L310.21,172.2L310.71,172.2L311.21,172.2L311.72,172.2L312.22,172.2L312.73,172.2L313.23,172.2L313.73,172.2L314.24,172.2L314.74,172.2L315.24,172.2L315.75,172.2L316.25,172.2L316.76,172.2L317.26,172.2L317.76,172.2L318.27,172.2L318.77,172.2L319.27,172.2L319.78,172.2L320.28,172.2L320.79,172.2L321.29,172.2L321.79,172.2L322.3,172.2L322.8,172.2L323.3,172.2L323.81,172.2L324.31,172.2L324.81,172.2L325.32,172.2L325.82,172.2L326.33,172.2L326.83,172.2L327.33,172.2L327.84,172.2L328.34,172.2L328.84,172.2L329.35,172.2L329.85,172.2L330.36,172.2L330.86,172.2L331.36,172.2L331.87,172.2L332.37,172.2L332.87,172.2L333.38,172.2L333.88,172.2L334.39,172.2L334.89,172.2L335.39,172.2L335.9,172.2L336.4,172.2L336.9,172.2L337.41,172.2L337.91,172.2L338.41,172.2L338.92,172.2L339.42,172.2L339.93,172.2L340.43,172.2L340.93,172.2L341.44,172.2L341.94,172.2L342.44,172.2L342.95,172.2L343.45,172.2L343.96,172.2L344.46,172.2L344.96,172.2L345.47,172.2L345.97,172.2L346.47,172.2L346.98,172.2L347.48,172.2L347.99,172.2L348.49,172.2L348.99,172.2L349.5,172.2L350,172.2L350.5,172.2L351,172.21L351.5,172.22L352,172.24L352.5,172.26L353,172.28L353.5,172.3L354,172.33L354.5,172.36L355,172.39L355.5,172.43L356,172.46L356.5,172.5L357,172.53L357.5,172.57L358,172.6L358.5,172.64L359,172.67L359.5,172.71L360,172.74L360.5,172.77L361,172.8L361.5,172.82L362,172.84L362.5,172.86L363,172.88L363.5,172.89L364,172.9L364.5,172.9L365,172.9L365.51,172.9L366.01,172.89L366.51,172.89L367.02,172.88L367.52,172.87L368.02,172.86L368.53,172.85L369.03,172.84L369.53,172.82L370.04,172.81L370.54,172.8L371.04,172.78L371.55,172.77L372.05,172.75L372.56,172.74L373.06,172.72L373.56,172.71L374.07,172.7L374.57,172.68L375.07,172.67L375.58,172.66L376.08,172.65L376.58,172.63L377.09,172.63L377.59,172.62L378.09,172.61L378.6,172.6L379.1,172.6L379.6,172.6L380.1,172.59L380.61,172.59L381.11,172.59L381.61,172.58L382.11,172.58L382.61,172.58L383.11,172.58L383.62,172.57L384.12,172.57L384.62,172.57L385.12,172.56L385.62,172.56L386.12,172.56L386.63,172.56L387.13,172.55L387.63,172.55L388.13,172.55L388.63,172.55L389.13,172.54L389.64,172.54L390.14,172.54L390.64,172.54L391.14,172.54L391.64,172.53L392.14,172.53L392.65,172.53L393.15,172.53L393.65,172.53L394.15,172.52L394.65,172.52L395.16,172.52L395.66,172.52L396.16,172.52L396.66,172.52L397.16,172.52L397.66,172.51L398.17,172.51L398.67,172.51L399.17,172.51L399.67,172.51L400.17,172.51L400.67,172.51L401.18,172.51L401.68,172.51L402.18,172.5L402.68,172.5L403.18,172.5L403.68,172.5L404.19,172.5L404.69,172.5L405.19,172.5L405.69,172.5L406.19,172.5L406.69,172.5L407.2,172.5L407.7,172.5L408.2,172.5L408.71,172.5L409.21,172.5L409.72,172.5L410.23,172.5L410.73,172.5L411.24,172.5L411.75,172.5L412.26,172.5L412.76,172.5L413.27,172.5L413.78,172.5L414.28,172.5L414.79,172.5L415.3,172.5L415.8,172.5L416.31,172.5L416.82,172.5L417.33,172.5L417.83,172.5L418.34,172.5L418.85,172.5L419.35,172.5L419.86,172.5L420.37,172.5L420.87,172.5L421.38,172.5L421.89,172.5L422.4,172.5L422.9,172.5L423.41,172.5L423.92,172.5L424.42,172.5L424.93,172.5L425.44,172.5L425.94,172.5L426.45,172.5L426.96,172.5L427.47,172.5L427.97,172.5L428.48,172.5L428.99,172.5L429.49,172.5L430,172.5L430.5,172.5L431,172.5L431.5,172.5L432,172.5L432.5,172.5L433,172.49L433.5,172.49L434,172.49L434.5,172.49L435,172.48L435.5,172.48L436,172.48L436.5,172.48L437,172.47L437.5,172.47L438,172.46L438.5,172.46L439,172.46L439.5,172.45L440,172.45L440.5,172.45L441,172.44L441.5,172.44L442,172.44L442.5,172.43L443,172.43L443.5,172.42L444,172.42L444.5,172.42L445,172.42L445.5,172.41L446,172.41L446.5,172.41L447,172.41L447.5,172.4L448,172.4L448.5,172.4L449,172.4L449.5,172.4L450,172.4L450.5,172.4L451,172.4L451.5,172.4L452,172.4L452.5,172.41L453,172.41L453.5,172.41L454,172.42L454.5,172.42L455,172.43L455.5,172.43L456,172.44L456.5,172.44L457,172.45L457.5,172.46L458,172.47L458.5,172.47L459,172.48L459.5,172.49L460,172.5L460.5,172.51L461,172.52L461.5,172.53L462,172.54L462.5,172.55L463,172.56L463.5,172.57L464,172.58L464.5,172.6L465,172.61L465.5,172.62L466,172.63L466.5,172.64L467,172.66L467.5,172.67L468,172.68L468.5,172.69L469,172.71L469.5,172.72L470,172.73L470.5,172.75L471,172.76L471.5,172.77L472,172.79L472.5,172.8L473,172.82L473.5,172.83L474,172.84L474.5,172.86L475,172.87L475.5,172.88L476,172.9L476.5,172.91L477,172.92L477.5,172.94L478,172.95L478.5,172.96L479,172.97L479.5,172.99L480,173L480.5,173.01L481,173.02L481.5,173.04L482,173.05L482.5,173.06L483,173.07L483.5,173.08L484,173.09L484.5,173.11L485,173.12L485.5,173.13L486,173.15L486.5,173.16L487,173.18L487.5,173.19L488,173.21L488.5,173.23L489,173.25L489.5,173.28L490,173.3L490.5,173.33L491,173.39L491.5,173.45L492,173.53L492.5,173.61L493,173.71L493.5,173.8L494,173.9L494.5,174L495,174.09L495.5,174.17L496,174.25L496.5,174.31L497,174.36L497.5,174.39L498,174.4L498.53,174.38L499.06,174.33L499.59,174.26L500.12,174.16L500.65,174.04L501.18,173.9L501.71,173.76L502.24,173.61L502.77,173.45L503.3,173.3L503.8,173.12L504.3,172.89L504.8,172.62L505.3,172.34L505.8,172.07L506.3,171.85L506.8,171.68L507.3,171.6L507.82,171.57L508.35,171.54L508.87,171.51L509.4,171.49L509.92,171.47L510.44,171.45L510.97,171.43L511.49,171.41L512.01,171.39L512.54,171.38L513.06,171.36L513.59,171.35L514.11,171.34L514.63,171.33L515.16,171.32L515.68,171.31L516.2,171.31L516.73,171.31L517.25,171.3L517.78,171.3L518.3,171.3" stroke="#6363ff"/>
<path d="M309.2,172L309.71,172L310.21,171.99L310.72,171.99L311.22,171.99L311.73,171.99L312.23,171.98L312.74,171.98L313.24,171.98L313.75,171.98L314.25,171.97L314.76,171.97L315.26,171.97L315.77,171.96L316.27,171.96L316.78,171.96L317.28,171.96L317.79,171.95L318.29,171.95L318.8,171.95L319.3,171.94L319.81,171.94L320.31,171.94L320.82,171.93L321.32,171.93L321.83,171.93L322.33,171.92L322.84,171.92L323.34,171.92L323.85,171.91L324.35,171.91L324.86,171.91L325.36,171.9L325.87,171.9L326.37,171.9L326.88,171.89L327.38,171.89L327.89,171.88L328.39,171.88L328.9,171.88L329.4,171.87L329.91,171.87L330.41,171.87L330.92,171.86L331.42,171.86L331.93,171.85L332.43,171.85L332.94,171.85L333.44,171.84L333.95,171.84L334.45,171.84L334.96,171.83L335.46,171.83L335.97,171.82L336.47,171.82L336.98,171.82L337.48,171.81L337.99,171.81L338.49,171.8L339,171.8L339.5,171.8L340,171.79L340.5,171.79L341,171.79L341.5,171.78L342,171.78L342.5,171.78L343,171.77L343.5,171.77L344,171.77L344.5,171.76L345,171.76L345.5,171.76L346,171.75L346.5,171.75L347,171.74L347.5,171.74L348,171.73L348.5,171.72L349,171.72L349.5,171.71L350,171.7L350.52,171.69L351.04,171.66L351.56,171.63L352.09,171.59L352.61,171.54L353.13,171.49L353.65,171.44L354.17,171.38L354.69,171.32L355.21,171.25L355.74,171.19L356.26,171.12L356.78,171.06L357.3,171L357.81,170.94L358.33,170.88L358.84,170.82L359.36,170.76L359.87,170.69L360.39,170.63L360.9,170.56L361.41,170.49L361.93,170.42L362.44,170.34L362.96,170.26L363.47,170.18L363.99,170.09L364.5,170L365.02,169.9L365.54,169.8L366.06,169.69L366.59,169.57L367.11,169.45L367.63,169.32L368.15,169.18L368.67,169.04L369.19,168.9L369.71,168.75L370.24,168.59L370.76,168.43L371.28,168.27L371.8,168.1L372.32,167.93L372.84,167.74L373.36,167.56L373.89,167.36L374.41,167.15L374.93,166.94L375.45,166.72L375.97,166.49L376.49,166.25L377.01,166L377.54,165.74L378.06,165.47L378.58,165.19L379.1,164.9L379.62,164.59L380.14,164.27L380.66,163.92L381.19,163.56L381.71,163.18L382.23,162.78L382.75,162.37L383.27,161.94L383.79,161.5L384.31,161.04L384.84,160.57L385.36,160.09L385.88,159.6L386.4,159.1L386.94,158.56L387.47,157.99L388.01,157.38L388.55,156.75L389.09,156.09L389.62,155.41L390.16,154.71L390.7,154L391.28,153.2L391.86,152.34L392.44,151.46L393.02,150.54L393.6,149.6L394.18,148.64L394.76,147.66L395.34,146.65L395.92,145.6L396.5,144.5L397,143.49L397.5,142.43L398,141.32L398.5,140.2L399,139.09L399.5,138L400.13,136.7L400.77,135.42L401.4,134L401.92,132.61L402.45,131.06L402.98,129.49L403.5,128L404,126.65L404.5,125.32L405,124.08L405.5,123L406,122.06L406.5,121.2L407,120.44L407.5,119.8L408,119.26L408.5,118.78L409,118.35L409.5,117.95L410,117.56L410.5,117.19L411,116.8L411.5,116.43L412,116.08L412.5,115.75L413,115.4L413.5,115.03L414,114.6L414.53,114.08L415.07,113.51L415.6,112.88L416.13,112.18L416.67,111.43L417.2,110.6L417.77,109.63L418.33,108.55L418.9,107.34L419.47,105.99L420.03,104.48L420.6,102.8L421.15,100.95L421.7,98.74L422.25,96.06L422.8,92.8L423.35,88.2L423.9,81.7L424.45,71.72L425,59.4L425.53,47.29L426.07,34.36L426.6,20.6L427.1,45L427.7,70L428.1,85L428.6,94.1L429.23,97.62L429.87,99.7L430.5,101.4L431.04,102.92L431.58,104.3L432.12,105.54L432.66,106.68L433.2,107.7L433.7,108.58L434.2,109.42L434.7,110.21L435.2,110.96L435.7,111.67L436.2,112.34L436.7,112.97L437.2,113.56L437.7,114.1L438.2,114.61L438.7,115.1L439.2,115.56L439.7,116L440.2,116.41L440.7,116.81L441.2,117.2L441.7,117.57L442.2,117.92L442.7,118.27L443.2,118.6L443.71,118.93L444.21,119.25L444.72,119.56L445.22,119.86L445.73,120.16L446.23,120.45L446.74,120.73L447.24,121.01L447.75,121.27L448.26,121.54L448.76,121.8L449.27,122.05L449.77,122.3L450.28,122.55L450.78,122.79L451.29,123.03L451.79,123.26L452.3,123.5L452.81,123.73L453.31,123.96L453.82,124.19L454.32,124.41L454.83,124.63L455.33,124.84L455.84,125.06L456.34,125.26L456.85,125.47L457.36,125.67L457.86,125.87L458.37,126.07L458.87,126.27L459.38,126.46L459.88,126.65L460.39,126.83L460.89,127.02L461.4,127.2L461.91,127.38L462.41,127.56L462.92,127.73L463.42,127.9L463.93,128.07L464.43,128.23L464.94,128.4L465.44,128.56L465.95,128.72L466.46,128.88L466.96,129.03L467.47,129.19L467.97,129.34L468.48,129.5L468.98,129.65L469.49,129.8L469.99,129.95L470.5,130.1L471,130.25L471.5,130.4L472,130.54L472.5,130.69L473,130.84L473.5,130.98L474,131.13L474.5,131.27L475,131.42L475.5,131.56L476,131.69L476.5,131.83L477,131.97L477.5,132.1L478,132.23L478.5,132.36L479,132.48L479.5,132.6L480.01,132.72L480.51,132.84L481.02,132.95L481.52,133.07L482.03,133.18L482.53,133.29L483.04,133.4L483.54,133.51L484.05,133.62L484.56,133.72L485.06,133.83L485.57,133.93L486.07,134.03L486.58,134.13L487.08,134.22L487.59,134.32L488.09,134.41L488.6,134.5L489.11,134.59L489.61,134.67L490.12,134.76L490.62,134.84L491.13,134.92L491.63,135L492.14,135.08L492.64,135.16L493.15,135.23L493.66,135.31L494.16,135.38L494.67,135.46L495.17,135.53L495.68,135.6L496.18,135.68L496.69,135.75L497.19,135.83L497.7,135.9L498.21,135.97L498.71,136.05L499.22,136.12L499.72,136.2L500.23,136.27L500.73,136.35L501.24,136.42L501.74,136.5L502.25,136.57L502.76,136.64L503.26,136.71L503.77,136.79L504.27,136.86L504.78,136.93L505.28,137L505.79,137.06L506.29,137.13L506.8,137.2L507.32,137.27L507.85,137.34L508.37,137.4L508.89,137.47L509.41,137.54L509.94,137.61L510.46,137.67L510.98,137.74L511.5,137.8L512.03,137.87L512.55,137.93L513.07,138L513.6,138.06L514.12,138.12L514.64,138.18L515.16,138.24L515.69,138.3L516.21,138.37L516.73,138.42L517.25,138.48L517.78,138.54L518.3,138.6" stroke="#ff5252"/>
<path d="M309.2,101.4L309.71,101.4L310.22,101.4L310.72,101.4L311.23,101.4L311.74,101.4L312.25,101.4L312.75,101.4L313.26,101.4L313.77,101.4L314.28,101.4L314.78,101.4L315.29,101.4L315.8,101.4L316.31,101.4L316.82,101.4L317.32,101.4L317.83,101.4L318.34,101.4L318.85,101.4L319.35,101.4L319.86,101.4L320.37,101.4L320.88,101.4L321.38,101.4L321.89,101.4L322.4,101.4L322.91,101.4L323.42,101.4L323.92,101.4L324.43,101.4L324.94,101.4L325.45,101.4L325.95,101.4L326.46,101.4L326.97,101.4L327.48,101.4L327.98,101.4L328.49,101.4L329,101.4L329.5,101.4L330,101.4L330.5,101.4L331,101.4L331.5,101.41L332,101.41L332.5,101.41L333,101.41L333.5,101.42L334,101.42L334.5,101.43L335,101.43L335.5,101.44L336,101.44L336.5,101.45L337,101.45L337.5,101.46L338,101.47L338.5,101.48L339,101.48L339.5,101.49L340,101.5L340.52,101.51L341.04,101.53L341.56,101.55L342.09,101.58L342.61,101.61L343.13,101.64L343.65,101.68L344.17,101.72L344.69,101.77L345.21,101.81L345.74,101.86L346.26,101.9L346.78,101.95L347.3,102L347.81,102.05L348.33,102.1L348.84,102.16L349.36,102.22L349.87,102.28L350.39,102.35L350.9,102.42L351.41,102.49L351.93,102.57L352.44,102.65L352.96,102.73L353.47,102.82L353.99,102.91L354.5,103L355.02,103.1L355.54,103.2L356.06,103.31L356.59,103.43L357.11,103.55L357.63,103.68L358.15,103.82L358.67,103.96L359.19,104.1L359.71,104.25L360.24,104.41L360.76,104.57L361.28,104.73L361.8,104.9L362.32,105.07L362.84,105.26L363.36,105.45L363.89,105.65L364.41,105.86L364.93,106.08L365.45,106.31L365.97,106.54L366.49,106.78L367.01,107.03L367.54,107.29L368.06,107.55L368.58,107.82L369.1,108.1L369.62,108.39L370.14,108.69L370.66,109L371.19,109.33L371.71,109.67L372.23,110.02L372.75,110.39L373.27,110.76L373.79,111.14L374.31,111.54L374.84,111.94L375.36,112.35L375.88,112.77L376.4,113.2L376.91,113.64L377.43,114.11L377.94,114.6L378.46,115.11L378.97,115.63L379.49,116.17L380,116.72L380.51,117.27L381.03,117.83L381.54,118.38L382.06,118.93L382.57,119.47L383.09,119.99L383.6,120.5L384.12,121L384.64,121.51L385.16,122L385.69,122.5L386.21,122.99L386.73,123.48L387.25,123.97L387.77,124.45L388.29,124.93L388.81,125.41L389.34,125.89L389.86,126.36L390.38,126.83L390.9,127.3L391.42,127.77L391.93,128.25L392.45,128.72L392.97,129.18L393.48,129.61L394,130L394.5,130.35L395,130.69L395.5,131.02L396,131.33L396.5,131.63L397,131.9L397.5,132.16L398,132.4L398.55,132.64L399.1,132.88L399.65,133.1L400.2,133.31L400.75,133.51L401.3,133.69L401.85,133.85L402.4,134L402.93,134.13L403.45,134.25L403.98,134.37L404.51,134.48L405.04,134.59L405.56,134.69L406.09,134.78L406.62,134.87L407.15,134.95L407.67,135.03L408.2,135.1L408.72,135.16L409.24,135.23L409.76,135.28L410.29,135.33L410.81,135.39L411.33,135.43L411.85,135.48L412.37,135.52L412.89,135.57L413.41,135.61L413.94,135.66L414.46,135.7L414.98,135.75L415.5,135.8L416.01,135.85L416.53,135.89L417.04,135.93L417.56,135.97L418.07,136.01L418.59,136.04L419.1,136.08L419.61,136.13L420.13,136.17L420.64,136.22L421.16,136.28L421.67,136.34L422.19,136.42L422.7,136.5L423.25,136.63L423.8,136.83L424.35,137.06L424.9,137.3L425.4,137.63L425.9,138.6L426.4,140.2L427.1,151.8L427.8,166.4L428.6,173.5L429.3,173.82L430,174L430.5,174L431,174L431.5,174L432,174L432.5,174L433,174L433.5,174L434,174L434.5,174L435,174L435.5,174L436,174L436.5,174L437,174L437.5,174L438,174L438.5,174L439,174L439.5,174L440,174L440.5,174L441,174L441.5,174L442,174L442.5,174L443,174L443.5,174L444,174L444.5,174L445,174L445.5,174L446,174L446.5,174L447,174L447.5,174L448,174L448.5,174L449,174L449.5,174L450,174L450.5,174L451,174L451.5,174L452,174L452.5,174L453,174L453.5,174L454,174L454.5,173.99L455,173.99L455.5,173.99L456,173.99L456.5,173.99L457,173.99L457.5,173.98L458,173.98L458.5,173.98L459,173.98L459.5,173.98L460,173.97L460.5,173.97L461,173.97L461.5,173.96L462,173.96L462.5,173.96L463,173.95L463.5,173.95L464,173.95L464.5,173.94L465,173.94L465.5,173.93L466,173.93L466.5,173.92L467,173.92L467.5,173.91L468,173.91L468.5,173.9L469,173.9L469.5,173.89L470,173.89L470.5,173.88L471,173.87L471.5,173.87L472,173.86L472.5,173.85L473,173.85L473.5,173.84L474,173.83L474.5,173.82L475,173.82L475.5,173.81L476,173.8L476.5,173.79L477,173.78L477.5,173.78L478,173.77L478.5,173.76L479,173.75L479.5,173.74L480,173.73L480.5,173.72L481,173.71L481.5,173.7L482,173.69L482.5,173.68L483,173.67L483.5,173.66L484,173.65L484.5,173.64L485,173.62L485.5,173.61L486,173.6L486.5,173.58L487,173.55L487.5,173.52L488,173.48L488.5,173.43L489,173.39L489.5,173.34L490,173.3L498,172.7L502,171.3L504.7,170.7L507.3,171.3L510,169.7L512.7,169.3L515.3,171.3L516.7,173.3L518.3,167.3" stroke="#4cf0f0"/>
<path d="M309.2,101.4L309.71,101.4L310.22,101.4L310.72,101.4L311.23,101.4L311.74,101.4L312.25,101.4L312.75,101.4L313.26,101.4L313.77,101.4L314.28,101.4L314.78,101.4L315.29,101.4L315.8,101.4L316.31,101.4L316.82,101.4L317.32,101.4L317.83,101.4L318.34,101.4L318.85,101.4L319.35,101.4L319.86,101.4L320.37,101.4L320.88,101.4L321.38,101.4L321.89,101.4L322.4,101.4L322.91,101.4L323.42,101.4L323.92,101.4L324.43,101.4L324.94,101.4L325.45,101.4L325.95,101.4L326.46,101.4L326.97,101.4L327.48,101.4L327.98,101.4L328.49,101.4L329,101.4L329.5,101.4L330,101.39L330.5,101.38L331,101.37L331.5,101.35L332,101.33L332.5,101.3L333,101.27L333.5,101.24L334,101.21L334.5,101.18L335,101.14L335.5,101.1L336,101.06L336.5,101.02L337,100.97L337.5,100.93L338,100.88L338.5,100.84L339,100.79L339.5,100.75L340,100.7L340.5,100.65L341,100.59L341.5,100.53L342,100.47L342.5,100.4L343,100.32L343.5,100.24L344,100.16L344.5,100.08L345,100L345.52,99.91L346.04,99.82L346.56,99.72L347.09,99.62L347.61,99.52L348.13,99.41L348.65,99.31L349.17,99.19L349.69,99.08L350.21,98.97L350.74,98.85L351.26,98.73L351.78,98.62L352.3,98.5L352.81,98.38L353.33,98.27L353.84,98.15L354.36,98.04L354.87,97.92L355.39,97.8L355.9,97.68L356.41,97.55L356.93,97.42L357.44,97.29L357.96,97.15L358.47,97.01L358.99,96.86L359.5,96.7L360.02,96.53L360.54,96.36L361.06,96.18L361.59,95.99L362.11,95.79L362.63,95.58L363.15,95.37L363.67,95.15L364.19,94.92L364.71,94.69L365.24,94.45L365.76,94.21L366.28,93.96L366.8,93.7L367.32,93.43L367.84,93.15L368.36,92.86L368.89,92.56L369.41,92.24L369.93,91.92L370.45,91.59L370.97,91.25L371.49,90.9L372.01,90.55L372.54,90.19L373.06,89.83L373.58,89.47L374.1,89.1L374.62,88.73L375.14,88.34L375.66,87.93L376.19,87.52L376.71,87.1L377.23,86.67L377.75,86.24L378.27,85.81L378.79,85.38L379.31,84.95L379.84,84.52L380.36,84.11L380.88,83.7L381.4,83.3L381.91,82.91L382.43,82.51L382.94,82.1L383.46,81.7L383.97,81.29L384.49,80.89L385,80.49L385.51,80.11L386.03,79.74L386.54,79.38L387.06,79.05L387.57,78.74L388.09,78.45L388.6,78.2L389.12,77.97L389.64,77.75L390.16,77.54L390.69,77.34L391.21,77.15L391.73,76.97L392.25,76.8L392.77,76.63L393.29,76.47L393.81,76.31L394.34,76.16L394.86,76.01L395.38,75.85L395.9,75.7L396.42,75.55L396.94,75.4L397.46,75.26L397.99,75.13L398.51,74.99L399.03,74.86L399.55,74.73L400.07,74.61L400.59,74.48L401.11,74.35L401.64,74.22L402.16,74.08L402.68,73.94L403.2,73.8L403.72,73.65L404.24,73.51L404.76,73.36L405.29,73.21L405.81,73.05L406.33,72.9L406.85,72.74L407.37,72.59L407.89,72.43L408.41,72.27L408.94,72.1L409.46,71.94L409.98,71.77L410.5,71.6L411.01,71.43L411.53,71.26L412.04,71.09L412.56,70.91L413.07,70.73L413.59,70.55L414.1,70.37L414.61,70.18L415.13,70L415.64,69.8L416.16,69.61L416.67,69.41L417.19,69.21L417.7,69L418.2,68.79L418.7,68.58L419.2,68.37L419.7,68.15L420.2,67.93L420.7,67.7L421.2,67.47L421.7,67.24L422.2,67L422.7,66.76L423.2,66.51L423.7,66.27L424.2,66.01L424.7,65.76L425.2,65.5L427.3,24L427.8,24L428.31,24L428.81,24L429.32,24L429.82,24L430.33,24L430.83,24L431.34,24L431.84,24L432.34,24L432.85,24L433.35,24L433.86,24L434.36,24L434.87,24L435.37,24L435.88,24L436.38,24L436.88,24L437.39,24L437.89,24L438.4,24L438.9,24L439.41,24L439.91,24L440.42,24L440.92,24L441.42,24L441.93,24L442.43,24L442.94,24L443.44,24L443.95,24L444.45,24L444.96,24L445.46,24L445.96,24L446.47,24L446.97,24L447.48,24L447.98,24L448.49,24L448.99,24L449.5,24L450,24L450.5,24L451,24L451.5,24L452,24L452.5,24L453,24L453.5,24L454,24L454.5,24L455,24L455.5,24L456,24.01L456.5,24.01L457,24.01L457.5,24.01L458,24.01L458.5,24.01L459,24.01L459.5,24.01L460,24.02L460.5,24.02L461,24.02L461.5,24.02L462,24.02L462.5,24.02L463,24.03L463.5,24.03L464,24.03L464.5,24.03L465,24.03L465.5,24.04L466,24.04L466.5,24.04L467,24.04L467.5,24.05L468,24.05L468.5,24.05L469,24.05L469.5,24.06L470,24.06L470.5,24.06L471,24.06L471.5,24.07L472,24.07L472.5,24.07L473,24.08L473.5,24.08L474,24.08L474.5,24.09L475,24.09L475.5,24.09L476,24.1L476.5,24.1L477,24.1L477.5,24.11L478,24.11L478.5,24.11L479,24.12L479.5,24.12L480,24.12L480.5,24.13L481,24.13L481.5,24.13L482,24.14L482.5,24.14L483,24.14L483.5,24.15L484,24.15L484.5,24.16L485,24.16L485.5,24.16L486,24.17L486.5,24.17L487,24.18L487.5,24.18L488,24.18L488.5,24.19L489,24.19L489.5,24.2L490,24.2L493,24.6L495,25L497,24.4L499,25.6L501,24.4L504,27L507,25.6L510,26.4L512.5,28.5L514.5,31L516.6,35.5L518.3,31" stroke="#ff4dff"/>
</g>
<line x1="413.75" y1="182.5" x2="413.75" y2="15.6" stroke="#8c8c8c" stroke-width="0.9" stroke-dasharray="5,3"/>
<path d="M309.2,15.6 V182.5 H518.3 M309.2,15.6 H518.3" fill="none" stroke="#4a4a4a" stroke-width="0.9"/>
<line x1="518.3" y1="15.6" x2="518.3" y2="182.5" stroke="#4da3dc" stroke-width="0.8"/>
<text x="309.2" y="192.1" font-size="6.6" fill="#333333" text-anchor="middle" font-family='"Liberation Sans", Arial, Helvetica, sans-serif' stroke="#333333" stroke-width="0.08">-0.5</text>
<text x="330.11" y="192.1" font-size="6.6" fill="#333333" text-anchor="middle" font-family='"Liberation Sans", Arial, Helvetica, sans-serif' stroke="#333333" stroke-width="0.08">-0.4</text>
<text x="351.02" y="192.1" font-size="6.6" fill="#333333" text-anchor="middle" font-family='"Liberation Sans", Arial, Helvetica, sans-serif' stroke="#333333" stroke-width="0.08">-0.3</text>
<text x="371.93" y="192.1" font-size="6.6" fill="#333333" text-anchor="middle" font-family='"Liberation Sans", Arial, Helvetica, sans-serif' stroke="#333333" stroke-width="0.08">-0.2</text>
<text x="392.84" y="192.1" font-size="6.6" fill="#333333" text-anchor="middle" font-family='"Liberation Sans", Arial, Helvetica, sans-serif' stroke="#333333" stroke-width="0.08">-0.1</text>
<text x="413.75" y="192.1" font-size="6.6" fill="#333333" text-anchor="middle" font-family='"Liberation Sans", Arial, Helvetica, sans-serif' stroke="#333333" stroke-width="0.08">0</text>
<text x="434.66" y="192.1" font-size="6.6" fill="#333333" text-anchor="middle" font-family='"Liberation Sans", Arial, Helvetica, sans-serif' stroke="#333333" stroke-width="0.08">0.1</text>
<text x="455.57" y="192.1" font-size="6.6" fill="#333333" text-anchor="middle" font-family='"Liberation Sans", Arial, Helvetica, sans-serif' stroke="#333333" stroke-width="0.08">0.2</text>
<text x="476.48" y="192.1" font-size="6.6" fill="#333333" text-anchor="middle" font-family='"Liberation Sans", Arial, Helvetica, sans-serif' stroke="#333333" stroke-width="0.08">0.3</text>
<text x="497.39" y="192.1" font-size="6.6" fill="#333333" text-anchor="middle" font-family='"Liberation Sans", Arial, Helvetica, sans-serif' stroke="#333333" stroke-width="0.08">0.4</text>
<text x="518.3" y="192.1" font-size="6.6" fill="#333333" text-anchor="middle" font-family='"Liberation Sans", Arial, Helvetica, sans-serif' stroke="#333333" stroke-width="0.08">0.5</text>
<path d="M309.2,182.5v-2M309.2,15.6v2M330.11,182.5v-2M330.11,15.6v2M351.02,182.5v-2M351.02,15.6v2M371.93,182.5v-2M371.93,15.6v2M392.84,182.5v-2M392.84,15.6v2M413.75,182.5v-2M413.75,15.6v2M434.66,182.5v-2M434.66,15.6v2M455.57,182.5v-2M455.57,15.6v2M476.48,182.5v-2M476.48,15.6v2M497.39,182.5v-2M497.39,15.6v2M518.3,182.5v-2M518.3,15.6v2M309.2,176.38h1.1M309.2,171.4h1.1M309.2,167.86h1.1M309.2,165.12h1.1M309.2,162.88h1.1M309.2,160.98h1.1M309.2,159.34h1.1M309.2,157.89h1.1M309.2,156.6h2.0M309.2,148.08h1.1M309.2,143.1h1.1M309.2,139.56h1.1M309.2,136.82h1.1M309.2,134.58h1.1M309.2,132.68h1.1M309.2,131.04h1.1M309.2,129.59h1.1M309.2,128.3h2.0M309.2,119.78h1.1M309.2,114.8h1.1M309.2,111.26h1.1M309.2,108.52h1.1M309.2,106.28h1.1M309.2,104.38h1.1M309.2,102.74h1.1M309.2,101.29h1.1M309.2,100h2.0M309.2,91.48h1.1M309.2,86.5h1.1M309.2,82.96h1.1M309.2,80.22h1.1M309.2,77.98h1.1M309.2,76.08h1.1M309.2,74.44h1.1M309.2,72.99h1.1M309.2,71.7h2.0M309.2,63.18h1.1M309.2,58.2h1.1M309.2,54.66h1.1M309.2,51.92h1.1M309.2,49.68h1.1M309.2,47.78h1.1M309.2,46.14h1.1M309.2,44.69h1.1M309.2,43.4h2.0M309.2,34.88h1.1M309.2,29.9h1.1M309.2,26.36h1.1M309.2,23.62h1.1M309.2,21.38h1.1M309.2,19.48h1.1M309.2,17.84h1.1M309.2,16.39h1.1" stroke="#4a4a4a" stroke-width="0.7" fill="none"/>
<text x="306.4" y="159.5" font-size="6.5" fill="#222222" stroke="#222222" stroke-width="0.15" text-anchor="end" font-family='"Liberation Sans", Arial, Helvetica, sans-serif'>10<tspan font-size="4.8" dy="-2.9">3</tspan></text>
<text x="306.4" y="131.2" font-size="6.5" fill="#222222" stroke="#222222" stroke-width="0.15" text-anchor="end" font-family='"Liberation Sans", Arial, Helvetica, sans-serif'>10<tspan font-size="4.8" dy="-2.9">4</tspan></text>
<text x="306.4" y="102.9" font-size="6.5" fill="#222222" stroke="#222222" stroke-width="0.15" text-anchor="end" font-family='"Liberation Sans", Arial, Helvetica, sans-serif'>10<tspan font-size="4.8" dy="-2.9">5</tspan></text>
<text x="306.4" y="74.6" font-size="6.5" fill="#222222" stroke="#222222" stroke-width="0.15" text-anchor="end" font-family='"Liberation Sans", Arial, Helvetica, sans-serif'>10<tspan font-size="4.8" dy="-2.9">6</tspan></text>
<text x="306.4" y="46.3" font-size="6.5" fill="#222222" stroke="#222222" stroke-width="0.15" text-anchor="end" font-family='"Liberation Sans", Arial, Helvetica, sans-serif'>10<tspan font-size="4.8" dy="-2.9">7</tspan></text>
<text x="520.8" y="185.4" font-size="6.6" fill="#2b8fd6" text-anchor="start" font-family='"Liberation Sans", Arial, Helvetica, sans-serif' stroke="#2b8fd6" stroke-width="0.15">-200</text>
<text x="520.8" y="164.56" font-size="6.6" fill="#2b8fd6" text-anchor="start" font-family='"Liberation Sans", Arial, Helvetica, sans-serif' stroke="#2b8fd6" stroke-width="0.15">-150</text>
<text x="520.8" y="143.72" font-size="6.6" fill="#2b8fd6" text-anchor="start" font-family='"Liberation Sans", Arial, Helvetica, sans-serif' stroke="#2b8fd6" stroke-width="0.15">-100</text>
<text x="520.8" y="122.89" font-size="6.6" fill="#2b8fd6" text-anchor="start" font-family='"Liberation Sans", Arial, Helvetica, sans-serif' stroke="#2b8fd6" stroke-width="0.15">-50</text>
<text x="520.8" y="102.05" font-size="6.6" fill="#2b8fd6" text-anchor="start" font-family='"Liberation Sans", Arial, Helvetica, sans-serif' stroke="#2b8fd6" stroke-width="0.15">0</text>
<text x="520.8" y="81.21" font-size="6.6" fill="#2b8fd6" text-anchor="start" font-family='"Liberation Sans", Arial, Helvetica, sans-serif' stroke="#2b8fd6" stroke-width="0.15">50</text>
<text x="520.8" y="60.38" font-size="6.6" fill="#2b8fd6" text-anchor="start" font-family='"Liberation Sans", Arial, Helvetica, sans-serif' stroke="#2b8fd6" stroke-width="0.15">100</text>
<text x="520.8" y="39.54" font-size="6.6" fill="#2b8fd6" text-anchor="start" font-family='"Liberation Sans", Arial, Helvetica, sans-serif' stroke="#2b8fd6" stroke-width="0.15">150</text>
<text x="520.8" y="18.7" font-size="6.6" fill="#2b8fd6" text-anchor="start" font-family='"Liberation Sans", Arial, Helvetica, sans-serif' stroke="#2b8fd6" stroke-width="0.15">200</text>
<path d="M518.3,182.3h-2M518.3,161.46h-2M518.3,140.62h-2M518.3,119.79h-2M518.3,98.95h-2M518.3,78.11h-2M518.3,57.28h-2M518.3,36.44h-2M518.3,15.6h-2" stroke="#4da3dc" stroke-width="0.7" fill="none"/>
<text transform="translate(318.1,12.1) scale(0.985,1.12)" font-size="7.3" fill="#2a2aff" stroke="#2a2aff" stroke-width="0.22" font-family='"Liberation Sans", Arial, Helvetica, sans-serif'>Rm =250.00 Ω</text>
<text transform="translate(370.7,12.1) scale(0.985,1.12)" font-size="7.3" fill="#2a2aff" stroke="#2a2aff" stroke-width="0.22" font-family='"Liberation Sans", Arial, Helvetica, sans-serif'>Lm =9.00 mH</text>
<text transform="translate(420.1,12.1) scale(0.985,1.12)" font-size="7.3" fill="#2a2aff" stroke="#2a2aff" stroke-width="0.22" font-family='"Liberation Sans", Arial, Helvetica, sans-serif'>Cm =28.00 fF</text>
<text transform="translate(469.7,12.1) scale(0.985,1.12)" font-size="7.3" fill="#2a2aff" stroke="#2a2aff" stroke-width="0.22" font-family='"Liberation Sans", Arial, Helvetica, sans-serif'>Cp =6.00 pF</text>
<text transform="translate(291.8,98.95) rotate(-90)" font-size="7.3" fill="#222222" stroke="#222222" stroke-width="0.22" text-anchor="middle" font-family='"Liberation Sans", Arial, Helvetica, sans-serif'>|Z| (Ω)</text>
<text transform="translate(544.3,98.95) rotate(-90)" font-size="7.3" fill="#2b8fd6" stroke="#2b8fd6" stroke-width="0.22" text-anchor="middle" font-family='"Liberation Sans", Arial, Helvetica, sans-serif'>Phase (Degrees)</text>
<text x="413.75" y="202.8" font-size="7.2" fill="#1a1a1a" text-anchor="middle" font-family='"DejaVu Serif", "Liberation Serif", serif' font-weight="bold">γ</text>
<text x="411.95" y="219.2" font-size="10.5" fill="#111" text-anchor="middle" font-family='"Liberation Serif", "Times New Roman", serif' font-weight="bold">(b)</text>
<rect x="314" y="20.5" width="41.2" height="53.9" fill="#fff" stroke="#8a8a8a" stroke-width="0.9"/>
<line x1="316" y1="27.4" x2="335.8" y2="27.4" stroke="#6363ff" stroke-width="1.5" stroke-opacity="0.72"/>
<text transform="translate(337.4,29.4) scale(1,1.2)" font-size="6.0" fill="#222222" stroke="#222222" stroke-width="0.16" font-family='"Liberation Sans", Arial, Helvetica, sans-serif'>Z</text>
<text x="341.27" y="32" font-size="4.6" fill="#222222" stroke="#222222" stroke-width="0.1" font-family='"Liberation Sans", Arial, Helvetica, sans-serif'>min</text>
<line x1="316" y1="38.2" x2="335.8" y2="38.2" stroke="#ff5252" stroke-width="1.5" stroke-opacity="0.72"/>
<text transform="translate(337.4,40.2) scale(1,1.2)" font-size="6.0" fill="#222222" stroke="#222222" stroke-width="0.16" font-family='"Liberation Sans", Arial, Helvetica, sans-serif'>Z</text>
<text x="341.27" y="42.8" font-size="4.6" fill="#222222" stroke="#222222" stroke-width="0.1" font-family='"Liberation Sans", Arial, Helvetica, sans-serif'>max</text>
<line x1="316" y1="49.2" x2="335.8" y2="49.2" stroke="#4cf0f0" stroke-width="1.5" stroke-opacity="0.72"/>
<text transform="translate(337.4,51.2) scale(1,1.2)" font-size="6.0" fill="#222222" stroke="#222222" stroke-width="0.16" font-family='"Liberation Sans", Arial, Helvetica, sans-serif'>Ph</text>
<text x="344.94" y="53.8" font-size="4.6" fill="#222222" stroke="#222222" stroke-width="0.1" font-family='"Liberation Sans", Arial, Helvetica, sans-serif'>min</text>
<line x1="316" y1="59.9" x2="335.8" y2="59.9" stroke="#ff4dff" stroke-width="1.5" stroke-opacity="0.72"/>
<text transform="translate(337.4,61.9) scale(1,1.2)" font-size="6.0" fill="#222222" stroke="#222222" stroke-width="0.16" font-family='"Liberation Sans", Arial, Helvetica, sans-serif'>Ph</text>
<text x="344.94" y="64.5" font-size="4.6" fill="#222222" stroke="#222222" stroke-width="0.1" font-family='"Liberation Sans", Arial, Helvetica, sans-serif'>max</text>
<line x1="316" y1="70.2" x2="335.8" y2="70.2" stroke="#707070" stroke-width="0.9" stroke-dasharray="4.8,3.2"/>
<text x="337.4" y="72.4" font-size="5.9" fill="#222222" text-anchor="start" font-family='"Liberation Sans", Arial, Helvetica, sans-serif' stroke="#222222" stroke-width="0.12">data1</text>
<clipPath id="clipc"><rect x="28" y="236.9" width="214.7" height="172.9"/></clipPath>
<g clip-path="url(#clipc)" fill="none" stroke-width="1.05" stroke-linejoin="round" stroke-linecap="round">
<path d="M28,393.4L28.5,393.39L29,393.37L29.5,393.36L30,393.35L30.5,393.33L31,393.32L31.5,393.31L32,393.3L32.5,393.28L33,393.27L33.5,393.26L34,393.25L34.5,393.24L35,393.23L35.5,393.22L36,393.21L36.5,393.2L37,393.19L37.5,393.19L38,393.18L38.5,393.17L39,393.16L39.5,393.15L40,393.15L40.5,393.14L41,393.13L41.5,393.12L42,393.12L42.5,393.11L43,393.11L43.5,393.1L44,393.09L44.5,393.09L45,393.08L45.5,393.08L46,393.07L46.5,393.07L47,393.07L47.5,393.06L48,393.06L48.5,393.05L49,393.05L49.5,393.05L50,393.04L50.5,393.04L51,393.04L51.5,393.03L52,393.03L52.5,393.03L53,393.03L53.5,393.02L54,393.02L54.5,393.02L55,393.02L55.5,393.02L56,393.01L56.5,393.01L57,393.01L57.5,393.01L58,393.01L58.5,393.01L59,393.01L59.5,393.01L60,393.01L60.5,393L61,393L61.5,393L62,393L62.5,393L63,393L63.5,393L64,393L64.5,393L65,393L65.5,393L66,393L66.5,393L67,393L67.5,393L68,393L68.5,393L69,393L69.5,393L70,393L70.5,393L71,393.01L71.5,393.02L72,393.03L72.5,393.05L73,393.07L73.5,393.09L74,393.11L74.5,393.14L75,393.17L75.5,393.21L76,393.24L76.5,393.28L77,393.31L77.5,393.35L78,393.39L78.5,393.44L79,393.48L79.5,393.52L80,393.57L80.5,393.61L81,393.66L81.5,393.7L82,393.75L82.5,393.79L83,393.83L83.5,393.88L84,393.92L84.5,393.96L85,394L85.5,394.04L86,394.07L86.5,394.11L87,394.14L87.5,394.17L88,394.2L88.51,394.23L89.01,394.26L89.52,394.29L90.02,394.32L90.53,394.35L91.04,394.38L91.54,394.41L92.05,394.44L92.55,394.47L93.06,394.5L93.56,394.52L94.07,394.54L94.58,394.56L95.08,394.58L95.59,394.59L96.09,394.6L96.6,394.6L97.11,394.6L97.62,394.6L98.13,394.6L98.63,394.6L99.14,394.59L99.65,394.59L100.16,394.59L100.67,394.59L101.18,394.58L101.69,394.58L102.19,394.57L102.7,394.57L103.21,394.56L103.72,394.56L104.23,394.55L104.74,394.55L105.25,394.54L105.75,394.53L106.26,394.53L106.77,394.52L107.28,394.51L107.79,394.51L108.3,394.5L108.81,394.49L109.31,394.48L109.82,394.48L110.33,394.47L110.84,394.46L111.35,394.45L111.86,394.44L112.37,394.43L112.87,394.43L113.38,394.42L113.89,394.41L114.4,394.4L114.9,394.39L115.4,394.38L115.91,394.37L116.41,394.36L116.91,394.34L117.41,394.33L117.91,394.31L118.42,394.29L118.92,394.27L119.42,394.25L119.92,394.23L120.42,394.21L120.93,394.19L121.43,394.17L121.93,394.15L122.43,394.12L122.93,394.1L123.44,394.07L123.94,394.05L124.44,394.02L124.94,394L125.44,393.97L125.95,393.95L126.45,393.92L126.95,393.89L127.45,393.87L127.95,393.84L128.45,393.82L128.96,393.79L129.46,393.77L129.96,393.74L130.46,393.72L130.96,393.69L131.47,393.67L131.97,393.65L132.47,393.62L132.97,393.6L133.47,393.58L133.98,393.56L134.48,393.54L134.98,393.52L135.48,393.51L135.98,393.49L136.49,393.47L136.99,393.46L137.49,393.45L137.99,393.43L138.49,393.42L139,393.41L139.5,393.41L140,393.4L140.5,393.39L141,393.39L141.5,393.38L142,393.38L142.5,393.37L143,393.37L143.5,393.36L144,393.36L144.5,393.35L145,393.35L145.5,393.34L146,393.34L146.5,393.33L147,393.33L147.5,393.32L148,393.32L148.5,393.31L149,393.31L149.5,393.3L150,393.3L150.5,393.3L151,393.29L151.5,393.29L152,393.28L152.5,393.28L153,393.28L153.5,393.27L154,393.27L154.5,393.26L155,393.26L155.5,393.26L156,393.25L156.5,393.25L157,393.25L157.5,393.24L158,393.24L158.5,393.24L159,393.24L159.5,393.23L160,393.23L160.5,393.23L161,393.23L161.5,393.22L162,393.22L162.5,393.22L163,393.22L163.5,393.22L164,393.21L164.5,393.21L165,393.21L165.5,393.21L166,393.21L166.5,393.21L167,393.2L167.5,393.2L168,393.2L168.5,393.2L169,393.2L169.5,393.2L170,393.2L170.5,393.2L171,393.2L171.5,393.2L172,393.2L172.5,393.2L173,393.2L173.51,393.21L174.01,393.21L174.51,393.22L175.01,393.22L175.51,393.23L176.01,393.24L176.52,393.24L177.02,393.25L177.52,393.26L178.02,393.27L178.52,393.28L179.02,393.3L179.53,393.31L180.03,393.32L180.53,393.34L181.03,393.35L181.53,393.37L182.03,393.38L182.54,393.4L183.04,393.41L183.54,393.43L184.04,393.45L184.54,393.47L185.04,393.49L185.55,393.51L186.05,393.53L186.55,393.55L187.05,393.57L187.55,393.59L188.05,393.61L188.55,393.63L189.06,393.65L189.56,393.67L190.06,393.7L190.56,393.72L191.06,393.74L191.56,393.77L192.07,393.79L192.57,393.81L193.07,393.84L193.57,393.86L194.07,393.88L194.57,393.91L195.08,393.93L195.58,393.96L196.08,393.98L196.58,394.01L197.08,394.03L197.58,394.06L198.09,394.08L198.59,394.11L199.09,394.13L199.59,394.15L200.09,394.18L200.59,394.2L201.1,394.23L201.6,394.25L202.1,394.28L202.6,394.3L203.11,394.32L203.61,394.35L204.12,394.37L204.63,394.4L205.14,394.42L205.64,394.45L206.15,394.48L206.66,394.5L207.17,394.53L207.67,394.56L208.18,394.59L208.69,394.61L209.2,394.64L209.7,394.67L210.21,394.7L210.72,394.73L211.22,394.76L211.73,394.79L212.24,394.83L212.75,394.86L213.25,394.89L213.76,394.93L214.27,394.96L214.78,395L215.28,395.03L215.79,395.07L216.3,395.1L216.8,395.14L217.31,395.18L217.82,395.22L218.33,395.26L218.83,395.3L219.34,395.34L219.85,395.38L220.36,395.43L220.86,395.47L221.37,395.51L221.88,395.56L222.39,395.61L222.89,395.65L223.4,395.7L223.91,395.76L224.42,395.83L224.93,395.92L225.44,396.01L225.96,396.1L226.47,396.18L226.98,396.24L227.49,396.28L228,396.3L228.52,396.29L229.03,396.28L229.55,396.25L230.06,396.22L230.58,396.17L231.09,396.12L231.61,396.06L232.12,395.99L232.64,395.9L233.15,395.82L233.67,395.72L234.18,395.61L234.7,395.5L235.2,395.25L235.7,394.78L236.2,394.16L236.7,393.49L237.2,392.82L237.7,392.25L238.2,391.85L238.7,391.7L239.2,391.7L239.7,391.72L240.2,391.75L240.7,391.82L241.2,391.94L241.7,392.12L242.2,392.37L242.7,392.7" stroke="#6363ff"/>
<path d="M28,393.4L28.5,393.4L29,393.4L29.5,393.39L30,393.39L30.5,393.39L31,393.39L31.5,393.38L32,393.38L32.5,393.38L33,393.37L33.5,393.37L34,393.37L34.5,393.36L35,393.36L35.5,393.36L36,393.35L36.5,393.35L37,393.34L37.5,393.34L38,393.33L38.5,393.33L39,393.33L39.5,393.32L40,393.32L40.5,393.31L41,393.31L41.5,393.3L42,393.29L42.5,393.29L43,393.28L43.5,393.28L44,393.27L44.5,393.27L45,393.26L45.5,393.26L46,393.25L46.5,393.24L47,393.24L47.5,393.23L48,393.22L48.5,393.22L49,393.21L49.5,393.21L50,393.2L50.5,393.19L51,393.19L51.5,393.18L52,393.18L52.5,393.17L53,393.16L53.5,393.16L54,393.15L54.5,393.14L55,393.14L55.5,393.13L56,393.12L56.5,393.12L57,393.11L57.5,393.1L58,393.09L58.5,393.09L59,393.08L59.5,393.07L60,393.06L60.5,393.05L61,393.04L61.5,393.03L62,393.02L62.5,393.01L63,393L63.5,392.99L64,392.98L64.5,392.97L65,392.95L65.5,392.94L66,392.93L66.5,392.91L67,392.9L67.5,392.88L68,392.87L68.5,392.85L69,392.84L69.5,392.82L70,392.8L70.52,392.78L71.05,392.75L71.57,392.72L72.09,392.68L72.62,392.64L73.14,392.59L73.66,392.54L74.19,392.48L74.71,392.43L75.24,392.37L75.76,392.3L76.28,392.24L76.81,392.17L77.33,392.11L77.85,392.04L78.38,391.97L78.9,391.9L79.42,391.83L79.95,391.75L80.47,391.68L80.99,391.59L81.52,391.51L82.04,391.42L82.56,391.32L83.09,391.23L83.61,391.13L84.14,391.02L84.66,390.92L85.18,390.81L85.71,390.69L86.23,390.57L86.75,390.45L87.28,390.33L87.8,390.2L88.32,390.07L88.84,389.93L89.35,389.79L89.87,389.64L90.39,389.48L90.91,389.32L91.42,389.15L91.94,388.97L92.46,388.79L92.98,388.6L93.49,388.4L94.01,388.2L94.53,388L95.05,387.78L95.56,387.56L96.08,387.33L96.6,387.1L97.12,386.85L97.65,386.59L98.17,386.32L98.69,386.03L99.22,385.73L99.74,385.41L100.26,385.09L100.79,384.75L101.31,384.4L101.84,384.04L102.36,383.68L102.88,383.3L103.41,382.92L103.93,382.52L104.45,382.12L104.98,381.71L105.5,381.3L106.04,380.86L106.58,380.4L107.12,379.92L107.66,379.42L108.2,378.9L108.74,378.36L109.28,377.8L109.82,377.22L110.36,376.62L110.9,376L111.45,375.34L112,374.64L112.55,373.9L113.1,373.13L113.65,372.33L114.2,371.49L114.75,370.61L115.3,369.7L115.8,368.82L116.3,367.88L116.8,366.9L117.3,365.86L117.8,364.8L118.3,363.71L118.8,362.6L119.31,361.46L119.83,360.32L120.34,359.14L120.86,357.92L121.37,356.62L121.89,355.22L122.4,353.7L122.92,351.88L123.44,349.77L123.96,347.52L124.48,345.31L125,343.3L125.57,341.21L126.13,339.25L126.7,337.8L127.25,336.87L127.8,336.12L128.35,335.5L128.9,335L129.46,334.57L130.02,334.2L130.58,333.87L131.14,333.58L131.7,333.3L132.26,333.04L132.81,332.82L133.37,332.62L133.93,332.42L134.49,332.2L135.04,331.97L135.6,331.7L136.14,331.39L136.69,331.03L137.23,330.63L137.77,330.21L138.31,329.78L138.86,329.34L139.4,328.9L139.9,328.5L140.4,328.1L140.9,327.69L141.4,327.27L141.9,326.84L142.4,326.4L142.9,325.95L143.4,325.48L143.9,325L144.45,324.45L145,323.89L145.55,323.31L146.1,322.7L146.65,322.08L147.2,321.42L147.75,320.73L148.3,320L148.87,319.21L149.43,318.36L150,317.47L150.57,316.51L151.13,315.49L151.7,314.4L152.24,313.26L152.78,312L153.32,310.65L153.86,309.24L154.4,307.8L154.97,306.33L155.55,304.85L156.12,303.15L156.7,301L157.25,298.15L157.8,294.36L158.35,289.74L158.9,284.4L159.5,276.66L160.1,266.7L160.6,256.71L161.1,244.9L161.65,256.34L162.2,266.7L162.75,276.49L163.3,284.4L163.88,290.19L164.45,295.05L165.03,299.04L165.6,302.2L166.15,304.66L166.7,306.8L167.25,308.68L167.8,310.35L168.35,311.87L168.9,313.3L169.45,314.68L170,315.99L170.55,317.23L171.1,318.4L171.65,319.49L172.2,320.49L172.75,321.39L173.3,322.2L173.82,322.89L174.33,323.53L174.85,324.14L175.36,324.72L175.88,325.26L176.39,325.78L176.91,326.28L177.42,326.75L177.94,327.21L178.45,327.65L178.97,328.07L179.48,328.49L180,328.9L180.52,329.3L181.03,329.69L181.55,330.07L182.06,330.44L182.58,330.79L183.09,331.14L183.61,331.47L184.12,331.8L184.64,332.11L185.15,332.42L185.67,332.72L186.18,333.01L186.7,333.3L187.21,333.58L187.73,333.85L188.24,334.12L188.75,334.38L189.27,334.63L189.78,334.88L190.29,335.12L190.8,335.36L191.32,335.6L191.83,335.83L192.34,336.06L192.86,336.29L193.37,336.52L193.88,336.74L194.4,336.96L194.91,337.18L195.42,337.4L195.93,337.61L196.45,337.83L196.96,338.05L197.47,338.26L197.99,338.48L198.5,338.7L199,338.91L199.5,339.13L200,339.34L200.5,339.55L201,339.77L201.5,339.98L202,340.19L202.5,340.4L203,340.61L203.5,340.82L204,341.02L204.5,341.23L205,341.44L205.5,341.64L206,341.84L206.5,342.04L207,342.24L207.5,342.44L208,342.64L208.5,342.83L209,343.03L209.5,343.22L210,343.41L210.5,343.6L211,343.78L211.5,343.96L212,344.15L212.5,344.32L213,344.5L213.5,344.67L214,344.85L214.5,345.02L215,345.18L215.5,345.35L216,345.51L216.5,345.68L217,345.84L217.5,346L218,346.16L218.5,346.31L219,346.47L219.5,346.62L220,346.78L220.5,346.93L221,347.08L221.5,347.23L222,347.38L222.5,347.53L223,347.68L223.5,347.83L224,347.97L224.5,348.12L225,348.27L225.5,348.42L226,348.56L226.5,348.71L227,348.85L227.5,349L228.01,349.15L228.51,349.3L229.02,349.44L229.53,349.59L230.03,349.73L230.54,349.88L231.05,350.02L231.55,350.17L232.06,350.31L232.57,350.46L233.07,350.6L233.58,350.74L234.09,350.88L234.59,351.02L235.1,351.16L235.61,351.3L236.11,351.44L236.62,351.58L237.13,351.72L237.63,351.86L238.14,351.99L238.65,352.13L239.15,352.27L239.66,352.4L240.17,352.54L240.67,352.67L241.18,352.8L241.69,352.94L242.19,353.07L242.7,353.2" stroke="#ff5252"/>
<path d="M28,327.8L28.5,327.8L29,327.79L29.5,327.79L30,327.79L30.5,327.78L31,327.78L31.5,327.78L32,327.77L32.5,327.77L33,327.77L33.5,327.76L34,327.76L34.5,327.76L35,327.75L35.5,327.75L36,327.75L36.5,327.74L37,327.74L37.5,327.74L38,327.74L38.5,327.73L39,327.73L39.5,327.73L40,327.73L40.5,327.72L41,327.72L41.5,327.72L42,327.72L42.5,327.71L43,327.71L43.5,327.71L44,327.71L44.5,327.71L45,327.71L45.5,327.71L46,327.7L46.5,327.7L47,327.7L47.5,327.7L48,327.7L48.5,327.7L49,327.7L49.5,327.7L50,327.7L50.51,327.7L51.02,327.7L51.54,327.7L52.05,327.7L52.56,327.7L53.08,327.7L53.59,327.7L54.1,327.7L54.61,327.7L55.12,327.7L55.64,327.7L56.15,327.7L56.66,327.7L57.18,327.7L57.69,327.7L58.2,327.7L58.71,327.7L59.23,327.7L59.74,327.7L60.25,327.7L60.76,327.7L61.28,327.7L61.79,327.7L62.3,327.7L62.81,327.7L63.33,327.7L63.84,327.7L64.35,327.7L64.86,327.7L65.38,327.7L65.89,327.7L66.4,327.7L66.91,327.71L67.41,327.73L67.92,327.76L68.43,327.8L68.93,327.85L69.44,327.91L69.94,327.98L70.45,328.04L70.96,328.12L71.46,328.19L71.97,328.27L72.47,328.34L72.98,328.41L73.49,328.48L73.99,328.54L74.5,328.6L75.01,328.65L75.53,328.7L76.04,328.75L76.55,328.79L77.06,328.83L77.58,328.87L78.09,328.91L78.6,328.96L79.11,329L79.62,329.05L80.14,329.09L80.65,329.15L81.16,329.2L81.67,329.26L82.19,329.33L82.7,329.4L83.21,329.48L83.73,329.58L84.24,329.69L84.75,329.82L85.26,329.95L85.78,330.09L86.29,330.25L86.8,330.41L87.31,330.57L87.83,330.74L88.34,330.92L88.85,331.1L89.36,331.27L89.88,331.45L90.39,331.63L90.9,331.8L91.41,331.97L91.93,332.14L92.44,332.32L92.95,332.49L93.46,332.67L93.97,332.85L94.49,333.03L95,333.22L95.51,333.42L96.03,333.62L96.54,333.83L97.05,334.04L97.56,334.27L98.07,334.5L98.59,334.75L99.1,335L99.63,335.28L100.17,335.59L100.7,335.91L101.23,336.26L101.77,336.62L102.3,337L102.83,337.39L103.37,337.8L103.9,338.21L104.43,338.64L104.97,339.07L105.5,339.5L106.02,339.94L106.55,340.41L107.07,340.9L107.59,341.41L108.12,341.94L108.64,342.48L109.16,343.03L109.69,343.59L110.21,344.15L110.74,344.72L111.26,345.28L111.78,345.83L112.31,346.38L112.83,346.91L113.35,347.42L113.88,347.92L114.4,348.4L114.92,348.87L115.45,349.34L115.97,349.81L116.49,350.29L117.02,350.76L117.54,351.23L118.06,351.69L118.59,352.15L119.11,352.59L119.64,353.02L120.16,353.44L120.68,353.84L121.21,354.22L121.73,354.58L122.25,354.91L122.78,355.22L123.3,355.5L123.81,355.75L124.31,355.99L124.82,356.21L125.33,356.42L125.84,356.62L126.34,356.81L126.85,357L127.36,357.17L127.86,357.35L128.37,357.52L128.88,357.69L129.39,357.86L129.89,358.03L130.4,358.2L130.91,358.38L131.41,358.56L131.92,358.74L132.42,358.93L132.93,359.11L133.43,359.3L133.94,359.48L134.44,359.66L134.95,359.84L135.45,360.02L135.96,360.18L136.46,360.35L136.97,360.5L137.47,360.64L137.98,360.78L138.48,360.9L138.99,361.02L139.49,361.11L140,361.2L140.51,361.27L141.02,361.34L141.52,361.4L142.03,361.46L142.54,361.51L143.05,361.55L143.55,361.6L144.06,361.65L144.57,361.69L145.08,361.74L145.58,361.79L146.09,361.84L146.6,361.9L147.12,361.96L147.63,362.03L148.15,362.09L148.67,362.16L149.19,362.22L149.7,362.29L150.22,362.36L150.74,362.43L151.26,362.5L151.77,362.57L152.29,362.64L152.81,362.72L153.33,362.79L153.84,362.87L154.36,362.95L154.88,363.02L155.4,363.1L155.91,363.18L156.43,363.26L156.95,363.35L157.47,363.43L157.98,363.51L158.5,363.6L160.8,398.8L161.5,399.48L162.2,399.9L162.7,399.93L163.2,399.95L163.7,399.98L164.2,400L164.7,400.03L165.2,400.05L165.7,400.07L166.2,400.09L166.7,400.11L167.2,400.13L167.7,400.15L168.2,400.17L168.7,400.19L169.2,400.21L169.7,400.23L170.2,400.24L170.7,400.26L171.2,400.27L171.7,400.29L172.2,400.3L172.7,400.31L173.2,400.32L173.7,400.34L174.2,400.35L174.7,400.36L175.2,400.37L175.7,400.38L176.2,400.39L176.7,400.4L177.2,400.41L177.7,400.41L178.2,400.42L178.7,400.43L179.2,400.43L179.7,400.44L180.2,400.45L180.7,400.45L181.2,400.46L181.7,400.46L182.2,400.47L182.7,400.47L183.2,400.47L183.7,400.48L184.2,400.48L184.7,400.48L185.2,400.49L185.7,400.49L186.2,400.49L186.7,400.49L187.2,400.49L187.7,400.5L188.2,400.5L188.7,400.5L189.2,400.5L189.7,400.5L190.2,400.5L190.7,400.5L191.2,400.5L191.7,400.5L192.2,400.5L192.71,400.5L193.21,400.5L193.72,400.5L194.23,400.49L194.74,400.49L195.24,400.49L195.75,400.48L196.26,400.47L196.77,400.47L197.27,400.46L197.78,400.45L198.29,400.44L198.8,400.44L199.3,400.43L199.81,400.42L200.32,400.41L200.82,400.39L201.33,400.38L201.84,400.37L202.35,400.36L202.85,400.34L203.36,400.33L203.87,400.31L204.38,400.3L204.88,400.28L205.39,400.27L205.9,400.25L206.4,400.24L206.91,400.22L207.42,400.2L207.93,400.19L208.43,400.17L208.94,400.15L209.45,400.13L209.96,400.11L210.46,400.1L210.97,400.08L211.48,400.06L211.99,400.04L212.49,400.02L213,400L213.51,399.98L214.02,399.96L214.53,399.93L215.04,399.9L215.55,399.87L216.06,399.84L216.57,399.8L217.08,399.77L217.59,399.73L218.11,399.69L218.62,399.65L219.13,399.61L219.64,399.57L220.15,399.52L220.66,399.48L221.17,399.43L221.68,399.39L222.19,399.34L222.7,399.3L226.7,396L229,397L232,394L235.3,399.3L239.3,390.7L241.3,393L242.7,396.7" stroke="#4cf0f0"/>
<path d="M28,327.8L28.5,327.8L29,327.79L29.5,327.79L30,327.79L30.5,327.78L31,327.78L31.5,327.78L32,327.77L32.5,327.77L33,327.77L33.5,327.76L34,327.76L34.5,327.76L35,327.75L35.5,327.75L36,327.75L36.5,327.74L37,327.74L37.5,327.74L38,327.74L38.5,327.73L39,327.73L39.5,327.73L40,327.73L40.5,327.72L41,327.72L41.5,327.72L42,327.72L42.5,327.71L43,327.71L43.5,327.71L44,327.71L44.5,327.71L45,327.71L45.5,327.71L46,327.7L46.5,327.7L47,327.7L47.5,327.7L48,327.7L48.5,327.7L49,327.7L49.5,327.7L50,327.7L50.51,327.7L51.02,327.7L51.54,327.7L52.05,327.7L52.56,327.7L53.08,327.7L53.59,327.7L54.1,327.7L54.61,327.7L55.12,327.7L55.64,327.7L56.15,327.7L56.66,327.7L57.18,327.7L57.69,327.7L58.2,327.7L58.71,327.7L59.23,327.7L59.74,327.7L60.25,327.7L60.76,327.7L61.28,327.7L61.79,327.7L62.3,327.7L62.81,327.7L63.33,327.7L63.84,327.7L64.35,327.7L64.86,327.7L65.38,327.7L65.89,327.7L66.4,327.7L66.91,327.69L67.41,327.68L67.92,327.66L68.43,327.62L68.93,327.59L69.44,327.54L69.94,327.49L70.45,327.43L70.96,327.37L71.46,327.31L71.97,327.24L72.47,327.17L72.98,327.11L73.49,327.04L73.99,326.97L74.5,326.9L75.01,326.83L75.53,326.76L76.04,326.68L76.55,326.6L77.06,326.51L77.58,326.43L78.09,326.33L78.6,326.24L79.11,326.13L79.62,326.03L80.14,325.92L80.65,325.8L81.16,325.68L81.67,325.56L82.19,325.43L82.7,325.3L83.21,325.16L83.73,325.01L84.24,324.84L84.75,324.67L85.26,324.48L85.78,324.29L86.29,324.08L86.8,323.87L87.31,323.66L87.83,323.43L88.34,323.2L88.85,322.97L89.36,322.73L89.88,322.49L90.39,322.25L90.9,322L91.41,321.75L91.93,321.48L92.44,321.21L92.95,320.93L93.46,320.63L93.97,320.34L94.49,320.03L95,319.72L95.51,319.4L96.03,319.08L96.54,318.75L97.05,318.42L97.56,318.09L98.07,317.76L98.59,317.43L99.1,317.1L99.61,316.76L100.12,316.42L100.64,316.06L101.15,315.69L101.66,315.32L102.17,314.94L102.69,314.57L103.2,314.19L103.71,313.81L104.22,313.44L104.74,313.07L105.25,312.71L105.76,312.37L106.27,312.03L106.79,311.71L107.3,311.4L107.81,311.1L108.33,310.81L108.84,310.51L109.35,310.22L109.86,309.94L110.38,309.66L110.89,309.38L111.4,309.11L111.91,308.85L112.42,308.6L112.94,308.36L113.45,308.12L113.96,307.9L114.47,307.69L114.99,307.49L115.5,307.3L116.01,307.13L116.51,306.96L117.02,306.8L117.53,306.65L118.03,306.5L118.54,306.36L119.04,306.23L119.55,306.1L120.06,305.97L120.56,305.84L121.07,305.72L121.57,305.6L122.08,305.47L122.59,305.35L123.09,305.23L123.6,305.1L124.11,304.97L124.62,304.85L125.14,304.73L125.65,304.61L126.16,304.49L126.67,304.37L127.19,304.25L127.7,304.14L128.21,304.02L128.72,303.91L129.24,303.79L129.75,303.67L130.26,303.56L130.78,303.44L131.29,303.32L131.8,303.2L132.31,303.08L132.83,302.96L133.34,302.85L133.85,302.73L134.36,302.62L134.88,302.51L135.39,302.39L135.9,302.27L136.41,302.16L136.93,302.03L137.44,301.91L137.95,301.78L138.46,301.64L138.97,301.5L139.49,301.36L140,301.2L140.52,301.03L141.03,300.85L141.55,300.66L142.06,300.45L142.58,300.24L143.09,300.02L143.61,299.79L144.12,299.56L144.64,299.33L145.15,299.09L145.67,298.86L146.18,298.63L146.7,298.4L147.23,298.17L147.76,297.94L148.29,297.71L148.82,297.47L149.35,297.24L149.88,297L150.41,296.75L150.94,296.51L151.47,296.26L152,296L152.53,295.74L153.05,295.47L153.58,295.21L154.11,294.93L154.64,294.65L155.16,294.37L155.69,294.09L156.22,293.8L156.75,293.5L157.27,293.2L157.8,292.9L161.4,246.4L161.9,246.39L162.41,246.38L162.91,246.36L163.41,246.35L163.91,246.34L164.42,246.33L164.92,246.32L165.42,246.31L165.92,246.3L166.43,246.3L166.93,246.29L167.43,246.28L167.94,246.27L168.44,246.27L168.94,246.26L169.44,246.25L169.95,246.25L170.45,246.24L170.95,246.24L171.45,246.23L171.96,246.23L172.46,246.23L172.96,246.22L173.46,246.22L173.97,246.22L174.47,246.21L174.97,246.21L175.48,246.21L175.98,246.21L176.48,246.21L176.98,246.2L177.49,246.2L177.99,246.2L178.49,246.2L178.99,246.2L179.5,246.2L180,246.2L180.5,246.2L181.01,246.2L181.51,246.21L182.02,246.21L182.53,246.22L183.03,246.22L183.53,246.23L184.04,246.24L184.54,246.25L185.05,246.26L185.56,246.27L186.06,246.29L186.56,246.3L187.07,246.31L187.57,246.33L188.08,246.34L188.59,246.36L189.09,246.37L189.59,246.39L190.1,246.4L190.6,246.41L191.11,246.43L191.61,246.44L192.12,246.46L192.62,246.47L193.13,246.49L193.63,246.5L194.14,246.51L194.64,246.53L195.15,246.54L195.66,246.55L196.16,246.56L196.66,246.57L197.17,246.58L197.67,246.58L198.18,246.59L198.69,246.59L199.19,246.6L199.69,246.6L200.2,246.6L200.71,246.6L201.22,246.6L201.73,246.59L202.24,246.59L202.75,246.58L203.26,246.58L203.77,246.57L204.28,246.56L204.79,246.55L205.3,246.54L205.81,246.53L206.32,246.52L206.83,246.51L207.34,246.49L207.85,246.48L208.36,246.46L208.87,246.45L209.38,246.43L209.89,246.42L210.4,246.4L212.4,247.4L219.5,247L223.1,248.7L225.1,247.7L227.7,247.4L230.2,248.4L232,246.7L234.3,252.3L236,254.8L237.4,252.3L238.7,247L239.9,248.2L241.4,254.3L242.7,259" stroke="#ff4dff"/>
</g>
<line x1="135.35" y1="408.8" x2="135.35" y2="237.9" stroke="#8c8c8c" stroke-width="0.9" stroke-dasharray="5,3"/>
<path d="M28,237.9 V408.8 H242.7 M28,237.9 H242.7" fill="none" stroke="#4a4a4a" stroke-width="0.9"/>
<line x1="242.7" y1="237.9" x2="242.7" y2="408.8" stroke="#4da3dc" stroke-width="0.8"/>
<text x="28" y="418.6" font-size="6.6" fill="#333333" text-anchor="middle" font-family='"Liberation Sans", Arial, Helvetica, sans-serif' stroke="#333333" stroke-width="0.08">-0.5</text>
<text x="49.47" y="418.6" font-size="6.6" fill="#333333" text-anchor="middle" font-family='"Liberation Sans", Arial, Helvetica, sans-serif' stroke="#333333" stroke-width="0.08">-0.4</text>
<text x="70.94" y="418.6" font-size="6.6" fill="#333333" text-anchor="middle" font-family='"Liberation Sans", Arial, Helvetica, sans-serif' stroke="#333333" stroke-width="0.08">-0.3</text>
<text x="92.41" y="418.6" font-size="6.6" fill="#333333" text-anchor="middle" font-family='"Liberation Sans", Arial, Helvetica, sans-serif' stroke="#333333" stroke-width="0.08">-0.2</text>
<text x="113.88" y="418.6" font-size="6.6" fill="#333333" text-anchor="middle" font-family='"Liberation Sans", Arial, Helvetica, sans-serif' stroke="#333333" stroke-width="0.08">-0.1</text>
<text x="135.35" y="418.6" font-size="6.6" fill="#333333" text-anchor="middle" font-family='"Liberation Sans", Arial, Helvetica, sans-serif' stroke="#333333" stroke-width="0.08">0</text>
<text x="156.82" y="418.6" font-size="6.6" fill="#333333" text-anchor="middle" font-family='"Liberation Sans", Arial, Helvetica, sans-serif' stroke="#333333" stroke-width="0.08">0.1</text>
<text x="178.29" y="418.6" font-size="6.6" fill="#333333" text-anchor="middle" font-family='"Liberation Sans", Arial, Helvetica, sans-serif' stroke="#333333" stroke-width="0.08">0.2</text>
<text x="199.76" y="418.6" font-size="6.6" fill="#333333" text-anchor="middle" font-family='"Liberation Sans", Arial, Helvetica, sans-serif' stroke="#333333" stroke-width="0.08">0.3</text>
<text x="221.23" y="418.6" font-size="6.6" fill="#333333" text-anchor="middle" font-family='"Liberation Sans", Arial, Helvetica, sans-serif' stroke="#333333" stroke-width="0.08">0.4</text>
<text x="242.7" y="418.6" font-size="6.6" fill="#333333" text-anchor="middle" font-family='"Liberation Sans", Arial, Helvetica, sans-serif' stroke="#333333" stroke-width="0.08">0.5</text>
<path d="M28,408.8v-2M28,237.9v2M49.47,408.8v-2M49.47,237.9v2M70.94,408.8v-2M70.94,237.9v2M92.41,408.8v-2M92.41,237.9v2M113.88,408.8v-2M113.88,237.9v2M135.35,408.8v-2M135.35,237.9v2M156.82,408.8v-2M156.82,237.9v2M178.29,408.8v-2M178.29,237.9v2M199.76,408.8v-2M199.76,237.9v2M221.23,408.8v-2M221.23,237.9v2M242.7,408.8v-2M242.7,237.9v2M28,403.73h1.1M28,398.39h1.1M28,394.25h1.1M28,390.87h1.1M28,388.01h1.1M28,385.54h1.1M28,383.35h1.1M28,381.4h2.0M28,368.55h1.1M28,361.03h1.1M28,355.69h1.1M28,351.55h1.1M28,348.17h1.1M28,345.31h1.1M28,342.84h1.1M28,340.65h1.1M28,338.7h2.0M28,325.85h1.1M28,318.33h1.1M28,312.99h1.1M28,308.85h1.1M28,305.47h1.1M28,302.61h1.1M28,300.14h1.1M28,297.95h1.1M28,296h2.0M28,283.15h1.1M28,275.63h1.1M28,270.29h1.1M28,266.15h1.1M28,262.77h1.1M28,259.91h1.1M28,257.44h1.1M28,255.25h1.1M28,253.3h2.0M28,240.45h1.1" stroke="#4a4a4a" stroke-width="0.7" fill="none"/>
<text x="25.2" y="384.3" font-size="6.5" fill="#222222" stroke="#222222" stroke-width="0.15" text-anchor="end" font-family='"Liberation Sans", Arial, Helvetica, sans-serif'>10<tspan font-size="4.8" dy="-2.9">3</tspan></text>
<text x="25.2" y="341.6" font-size="6.5" fill="#222222" stroke="#222222" stroke-width="0.15" text-anchor="end" font-family='"Liberation Sans", Arial, Helvetica, sans-serif'>10<tspan font-size="4.8" dy="-2.9">4</tspan></text>
<text x="25.2" y="298.9" font-size="6.5" fill="#222222" stroke="#222222" stroke-width="0.15" text-anchor="end" font-family='"Liberation Sans", Arial, Helvetica, sans-serif'>10<tspan font-size="4.8" dy="-2.9">5</tspan></text>
<text x="25.2" y="256.2" font-size="6.5" fill="#222222" stroke="#222222" stroke-width="0.15" text-anchor="end" font-family='"Liberation Sans", Arial, Helvetica, sans-serif'>10<tspan font-size="4.8" dy="-2.9">6</tspan></text>
<text x="245.2" y="411.9" font-size="6.6" fill="#2b8fd6" text-anchor="start" font-family='"Liberation Sans", Arial, Helvetica, sans-serif' stroke="#2b8fd6" stroke-width="0.15">-200</text>
<text x="245.2" y="390.54" font-size="6.6" fill="#2b8fd6" text-anchor="start" font-family='"Liberation Sans", Arial, Helvetica, sans-serif' stroke="#2b8fd6" stroke-width="0.15">-150</text>
<text x="245.2" y="369.18" font-size="6.6" fill="#2b8fd6" text-anchor="start" font-family='"Liberation Sans", Arial, Helvetica, sans-serif' stroke="#2b8fd6" stroke-width="0.15">-100</text>
<text x="245.2" y="347.81" font-size="6.6" fill="#2b8fd6" text-anchor="start" font-family='"Liberation Sans", Arial, Helvetica, sans-serif' stroke="#2b8fd6" stroke-width="0.15">-50</text>
<text x="245.2" y="326.45" font-size="6.6" fill="#2b8fd6" text-anchor="start" font-family='"Liberation Sans", Arial, Helvetica, sans-serif' stroke="#2b8fd6" stroke-width="0.15">0</text>
<text x="245.2" y="305.09" font-size="6.6" fill="#2b8fd6" text-anchor="start" font-family='"Liberation Sans", Arial, Helvetica, sans-serif' stroke="#2b8fd6" stroke-width="0.15">50</text>
<text x="245.2" y="283.73" font-size="6.6" fill="#2b8fd6" text-anchor="start" font-family='"Liberation Sans", Arial, Helvetica, sans-serif' stroke="#2b8fd6" stroke-width="0.15">100</text>
<text x="245.2" y="262.36" font-size="6.6" fill="#2b8fd6" text-anchor="start" font-family='"Liberation Sans", Arial, Helvetica, sans-serif' stroke="#2b8fd6" stroke-width="0.15">150</text>
<text x="245.2" y="241" font-size="6.6" fill="#2b8fd6" text-anchor="start" font-family='"Liberation Sans", Arial, Helvetica, sans-serif' stroke="#2b8fd6" stroke-width="0.15">200</text>
<path d="M242.7,408.8h-2M242.7,387.44h-2M242.7,366.07h-2M242.7,344.71h-2M242.7,323.35h-2M242.7,301.99h-2M242.7,280.62h-2M242.7,259.26h-2M242.7,237.9h-2" stroke="#4da3dc" stroke-width="0.7" fill="none"/>
<text transform="translate(37.7,234.4) scale(0.985,1.12)" font-size="7.3" fill="#2a2aff" stroke="#2a2aff" stroke-width="0.22" font-family='"Liberation Sans", Arial, Helvetica, sans-serif'>Rm =500.00 Ω</text>
<text transform="translate(91.7,234.4) scale(0.985,1.12)" font-size="7.3" fill="#2a2aff" stroke="#2a2aff" stroke-width="0.22" font-family='"Liberation Sans", Arial, Helvetica, sans-serif'>Lm =9.00 mH</text>
<text transform="translate(142.1,234.4) scale(0.985,1.12)" font-size="7.3" fill="#2a2aff" stroke="#2a2aff" stroke-width="0.22" font-family='"Liberation Sans", Arial, Helvetica, sans-serif'>Cm =28.00 fF</text>
<text transform="translate(192.7,234.4) scale(0.985,1.12)" font-size="7.3" fill="#2a2aff" stroke="#2a2aff" stroke-width="0.22" font-family='"Liberation Sans", Arial, Helvetica, sans-serif'>Cp =6.00 pF</text>
<text transform="translate(10.6,323.35) rotate(-90)" font-size="7.3" fill="#222222" stroke="#222222" stroke-width="0.22" text-anchor="middle" font-family='"Liberation Sans", Arial, Helvetica, sans-serif'>|Z| (Ω)</text>
<text transform="translate(268.7,323.35) rotate(-90)" font-size="7.3" fill="#2b8fd6" stroke="#2b8fd6" stroke-width="0.22" text-anchor="middle" font-family='"Liberation Sans", Arial, Helvetica, sans-serif'>Phase (Degrees)</text>
<text x="135.35" y="429.6" font-size="7.2" fill="#1a1a1a" text-anchor="middle" font-family='"DejaVu Serif", "Liberation Serif", serif' font-weight="bold">γ</text>
<text x="129.85" y="444" font-size="10.5" fill="#111" text-anchor="middle" font-family='"Liberation Serif", "Times New Roman", serif' font-weight="bold">(c)</text>
<rect x="33.2" y="242.7" width="42.3" height="55.5" fill="#fff" stroke="#8a8a8a" stroke-width="0.9"/>
<line x1="35.2" y1="249.4" x2="55" y2="249.4" stroke="#6363ff" stroke-width="1.5" stroke-opacity="0.72"/>
<text transform="translate(56.6,251.4) scale(1,1.2)" font-size="6.0" fill="#222222" stroke="#222222" stroke-width="0.16" font-family='"Liberation Sans", Arial, Helvetica, sans-serif'>Z</text>
<text x="60.47" y="254" font-size="4.6" fill="#222222" stroke="#222222" stroke-width="0.1" font-family='"Liberation Sans", Arial, Helvetica, sans-serif'>min</text>
<line x1="35.2" y1="260.7" x2="55" y2="260.7" stroke="#ff5252" stroke-width="1.5" stroke-opacity="0.72"/>
<text transform="translate(56.6,262.7) scale(1,1.2)" font-size="6.0" fill="#222222" stroke="#222222" stroke-width="0.16" font-family='"Liberation Sans", Arial, Helvetica, sans-serif'>Z</text>
<text x="60.47" y="265.3" font-size="4.6" fill="#222222" stroke="#222222" stroke-width="0.1" font-family='"Liberation Sans", Arial, Helvetica, sans-serif'>max</text>
<line x1="35.2" y1="271.9" x2="55" y2="271.9" stroke="#4cf0f0" stroke-width="1.5" stroke-opacity="0.72"/>
<text transform="translate(56.6,273.9) scale(1,1.2)" font-size="6.0" fill="#222222" stroke="#222222" stroke-width="0.16" font-family='"Liberation Sans", Arial, Helvetica, sans-serif'>Ph</text>
<text x="64.14" y="276.5" font-size="4.6" fill="#222222" stroke="#222222" stroke-width="0.1" font-family='"Liberation Sans", Arial, Helvetica, sans-serif'>min</text>
<line x1="35.2" y1="283.3" x2="55" y2="283.3" stroke="#ff4dff" stroke-width="1.5" stroke-opacity="0.72"/>
<text transform="translate(56.6,285.3) scale(1,1.2)" font-size="6.0" fill="#222222" stroke="#222222" stroke-width="0.16" font-family='"Liberation Sans", Arial, Helvetica, sans-serif'>Ph</text>
<text x="64.14" y="287.9" font-size="4.6" fill="#222222" stroke="#222222" stroke-width="0.1" font-family='"Liberation Sans", Arial, Helvetica, sans-serif'>max</text>
<line x1="35.2" y1="293.5" x2="55" y2="293.5" stroke="#707070" stroke-width="0.9" stroke-dasharray="4.8,3.2"/>
<text x="56.6" y="295.7" font-size="5.9" fill="#222222" text-anchor="start" font-family='"Liberation Sans", Arial, Helvetica, sans-serif' stroke="#222222" stroke-width="0.12">data1</text>
<clipPath id="clipd"><rect x="308.4" y="239.3" width="209.2" height="168.7"/></clipPath>
<g clip-path="url(#clipd)" fill="none" stroke-width="1.05" stroke-linejoin="round" stroke-linecap="round">
<path d="M308.4,388.5L308.9,388.5L309.4,388.5L309.9,388.5L310.41,388.5L310.91,388.5L311.41,388.5L311.91,388.5L312.41,388.5L312.91,388.5L313.41,388.5L313.91,388.5L314.42,388.5L314.92,388.5L315.42,388.5L315.92,388.5L316.42,388.5L316.92,388.5L317.42,388.5L317.92,388.5L318.43,388.5L318.93,388.5L319.43,388.5L319.93,388.5L320.43,388.5L320.93,388.5L321.43,388.5L321.94,388.5L322.44,388.5L322.94,388.5L323.44,388.5L323.94,388.5L324.44,388.5L324.94,388.5L325.44,388.5L325.95,388.5L326.45,388.5L326.95,388.5L327.45,388.5L327.95,388.5L328.45,388.5L328.95,388.5L329.45,388.5L329.96,388.5L330.46,388.5L330.96,388.5L331.46,388.5L331.96,388.5L332.46,388.5L332.96,388.5L333.46,388.5L333.97,388.5L334.47,388.5L334.97,388.5L335.47,388.5L335.97,388.5L336.47,388.5L336.97,388.5L337.48,388.5L337.98,388.5L338.48,388.5L338.98,388.5L339.48,388.5L339.98,388.5L340.48,388.5L340.98,388.5L341.49,388.5L341.99,388.5L342.49,388.5L342.99,388.5L343.49,388.5L343.99,388.5L344.49,388.5L344.99,388.5L345.5,388.5L346,388.5L346.5,388.5L347,388.5L347.5,388.5L348,388.5L348.5,388.49L349,388.48L349.5,388.48L350,388.47L350.5,388.46L351,388.45L351.5,388.44L352,388.43L352.5,388.42L353,388.42L353.5,388.41L354,388.4L354.5,388.4L355,388.4L355.51,388.4L356.01,388.4L356.52,388.41L357.02,388.42L357.53,388.43L358.04,388.44L358.54,388.45L359.05,388.47L359.55,388.49L360.06,388.51L360.57,388.53L361.07,388.55L361.58,388.57L362.08,388.6L362.59,388.63L363.1,388.65L363.6,388.68L364.11,388.71L364.62,388.74L365.12,388.77L365.63,388.8L366.13,388.83L366.64,388.87L367.15,388.9L367.65,388.93L368.16,388.97L368.66,389L369.17,389.03L369.68,389.07L370.18,389.1L370.69,389.13L371.19,389.17L371.7,389.2L372.2,389.23L372.71,389.27L373.21,389.31L373.71,389.34L374.22,389.38L374.72,389.43L375.22,389.47L375.72,389.51L376.23,389.56L376.73,389.61L377.23,389.65L377.74,389.7L378.24,389.75L378.74,389.8L379.25,389.86L379.75,389.91L380.25,389.96L380.75,390.01L381.26,390.07L381.76,390.12L382.26,390.17L382.77,390.23L383.27,390.28L383.77,390.34L384.28,390.39L384.78,390.44L385.28,390.5L385.78,390.55L386.29,390.6L386.79,390.65L387.29,390.7L387.8,390.75L388.3,390.8L388.82,390.85L389.35,390.91L389.88,390.97L390.4,391.04L390.93,391.1L391.45,391.17L391.98,391.24L392.5,391.3L393.02,391.36L393.55,391.42L394.07,391.47L394.6,391.51L395.12,391.55L395.65,391.58L396.18,391.59L396.7,391.6L397.2,391.6L397.71,391.59L398.21,391.59L398.71,391.58L399.22,391.57L399.72,391.56L400.22,391.54L400.72,391.52L401.23,391.51L401.73,391.48L402.23,391.46L402.74,391.44L403.24,391.41L403.74,391.39L404.25,391.36L404.75,391.33L405.25,391.3L405.75,391.27L406.26,391.24L406.76,391.21L407.26,391.18L407.77,391.15L408.27,391.12L408.77,391.08L409.28,391.05L409.78,391.02L410.28,390.99L410.78,390.95L411.29,390.92L411.79,390.89L412.29,390.86L412.8,390.83L413.3,390.8L413.81,390.77L414.32,390.74L414.83,390.7L415.33,390.67L415.84,390.63L416.35,390.6L416.86,390.56L417.37,390.52L417.88,390.48L418.39,390.44L418.9,390.4L419.4,390.36L419.91,390.32L420.42,390.29L420.93,390.25L421.44,390.21L421.95,390.18L422.46,390.14L422.97,390.11L423.47,390.08L423.98,390.05L424.49,390.02L425,390L425.5,389.98L426,389.96L426.5,389.94L427,389.91L427.5,389.9L428,389.88L428.5,389.86L429,389.84L429.5,389.82L430,389.81L430.5,389.79L431,389.77L431.5,389.76L432,389.74L432.5,389.73L433,389.71L433.5,389.7L434,389.68L434.5,389.67L435,389.65L435.5,389.64L436,389.62L436.5,389.61L437,389.59L437.5,389.58L438,389.56L438.5,389.55L439,389.53L439.5,389.52L440,389.5L440.5,389.48L441,389.47L441.5,389.45L442.01,389.43L442.51,389.41L443.01,389.4L443.51,389.38L444.01,389.36L444.51,389.34L445.02,389.32L445.52,389.31L446.02,389.29L446.52,389.27L447.02,389.25L447.52,389.23L448.03,389.21L448.53,389.19L449.03,389.17L449.53,389.16L450.03,389.14L450.53,389.12L451.04,389.1L451.54,389.08L452.04,389.06L452.54,389.04L453.04,389.02L453.54,389L454.05,388.99L454.55,388.97L455.05,388.95L455.55,388.93L456.05,388.91L456.55,388.89L457.05,388.88L457.56,388.86L458.06,388.84L458.56,388.82L459.06,388.81L459.56,388.79L460.06,388.77L460.57,388.76L461.07,388.74L461.57,388.73L462.07,388.71L462.57,388.7L463.07,388.68L463.58,388.67L464.08,388.65L464.58,388.64L465.08,388.63L465.58,388.61L466.08,388.6L466.59,388.59L467.09,388.58L467.59,388.56L468.09,388.55L468.59,388.54L469.09,388.53L469.6,388.52L470.1,388.52L470.6,388.51L471.1,388.5L471.6,388.49L472.1,388.49L472.6,388.48L473.11,388.47L473.61,388.46L474.11,388.46L474.61,388.45L475.11,388.44L475.61,388.43L476.12,388.43L476.62,388.42L477.12,388.41L477.62,388.41L478.12,388.4L478.62,388.39L479.13,388.38L479.63,388.38L480.13,388.37L480.63,388.36L481.13,388.36L481.63,388.35L482.14,388.35L482.64,388.34L483.14,388.33L483.64,388.33L484.14,388.32L484.64,388.31L485.15,388.31L485.65,388.3L486.15,388.3L486.65,388.29L487.15,388.29L487.65,388.28L488.15,388.28L488.66,388.27L489.16,388.27L489.66,388.26L490.16,388.26L490.66,388.25L491.16,388.25L491.67,388.24L492.17,388.24L492.67,388.24L493.17,388.23L493.67,388.23L494.17,388.23L494.68,388.22L495.18,388.22L495.68,388.22L496.18,388.22L496.68,388.21L497.18,388.21L497.69,388.21L498.19,388.21L498.69,388.21L499.19,388.2L499.69,388.2L500.19,388.2L500.7,388.2L501.2,388.2L501.7,388.2L502.2,388.2L502.7,388.2L503.2,388.22L503.7,388.24L504.2,388.26L504.7,388.29L505.2,388.33L505.7,388.38L506.2,388.42L506.7,388.48L507.2,388.53L507.7,388.59L508.2,388.66L508.7,388.72L509.2,388.79L509.7,388.86L510.2,388.92L510.7,388.99L511.2,389.06L511.7,389.13L512.2,389.2L512.7,389.26L513.2,389.33L513.7,389.39L514.2,389.45L514.7,389.5L515.28,389.56L515.86,389.62L516.44,389.68L517.02,389.74L517.6,389.8" stroke="#6363ff"/>
<path d="M308.4,388.5L308.9,388.5L309.4,388.5L309.9,388.5L310.41,388.5L310.91,388.5L311.41,388.5L311.91,388.5L312.41,388.5L312.91,388.5L313.41,388.5L313.91,388.5L314.42,388.5L314.92,388.5L315.42,388.5L315.92,388.5L316.42,388.5L316.92,388.5L317.42,388.5L317.92,388.5L318.43,388.5L318.93,388.49L319.43,388.49L319.93,388.49L320.43,388.49L320.93,388.49L321.43,388.49L321.94,388.49L322.44,388.49L322.94,388.49L323.44,388.49L323.94,388.49L324.44,388.49L324.94,388.49L325.44,388.48L325.95,388.48L326.45,388.48L326.95,388.48L327.45,388.48L327.95,388.48L328.45,388.48L328.95,388.48L329.45,388.48L329.96,388.47L330.46,388.47L330.96,388.47L331.46,388.47L331.96,388.47L332.46,388.47L332.96,388.46L333.46,388.46L333.97,388.46L334.47,388.46L334.97,388.46L335.47,388.46L335.97,388.45L336.47,388.45L336.97,388.45L337.48,388.45L337.98,388.45L338.48,388.44L338.98,388.44L339.48,388.44L339.98,388.44L340.48,388.44L340.98,388.43L341.49,388.43L341.99,388.43L342.49,388.43L342.99,388.42L343.49,388.42L343.99,388.42L344.49,388.41L344.99,388.41L345.5,388.41L346,388.41L346.5,388.4L347,388.4L347.5,388.39L348,388.39L348.5,388.37L349,388.36L349.5,388.34L350,388.31L350.5,388.29L351,388.26L351.5,388.23L352,388.2L352.5,388.17L353,388.13L353.5,388.1L354,388.07L354.5,388.03L355,388L355.52,387.96L356.04,387.93L356.56,387.89L357.07,387.85L357.59,387.8L358.11,387.76L358.63,387.71L359.15,387.66L359.67,387.61L360.19,387.55L360.71,387.5L361.23,387.44L361.74,387.38L362.26,387.32L362.78,387.26L363.3,387.2L363.82,387.13L364.35,387.07L364.88,387L365.4,386.92L365.93,386.84L366.45,386.77L366.98,386.68L367.5,386.6L368.02,386.51L368.55,386.42L369.07,386.32L369.6,386.22L370.12,386.12L370.65,386.02L371.18,385.91L371.7,385.8L372.22,385.69L372.74,385.56L373.26,385.44L373.77,385.31L374.29,385.17L374.81,385.02L375.33,384.87L375.85,384.72L376.37,384.56L376.89,384.39L377.41,384.22L377.93,384.05L378.44,383.87L378.96,383.68L379.48,383.49L380,383.3L380.52,383.1L381.03,382.9L381.55,382.68L382.06,382.46L382.58,382.23L383.09,381.99L383.61,381.73L384.12,381.47L384.64,381.2L385.15,380.92L385.67,380.62L386.18,380.32L386.7,380L387.2,379.67L387.7,379.32L388.2,378.95L388.7,378.56L389.2,378.15L389.7,377.72L390.2,377.26L390.7,376.79L391.2,376.31L391.7,375.8L392.2,375.27L392.7,374.69L393.2,374.08L393.7,373.44L394.2,372.77L394.7,372.09L395.2,371.38L395.7,370.66L396.2,369.93L396.7,369.2L397.21,368.42L397.73,367.59L398.24,366.73L398.75,365.85L399.26,364.97L399.77,364.11L400.29,363.28L400.8,362.5L401.37,361.67L401.93,360.85L402.5,360.06L403.07,359.31L403.63,358.62L404.2,358L404.75,357.45L405.3,356.91L405.85,356.4L406.4,355.95L406.95,355.58L407.5,355.3L408.02,355.1L408.55,354.94L409.07,354.8L409.6,354.67L410.12,354.56L410.65,354.45L411.18,354.33L411.7,354.2L412.21,354.07L412.72,353.94L413.22,353.81L413.73,353.68L414.24,353.56L414.75,353.43L415.25,353.3L415.76,353.17L416.27,353.04L416.78,352.91L417.28,352.77L417.79,352.64L418.3,352.5L418.82,352.36L419.33,352.22L419.85,352.08L420.36,351.93L420.88,351.79L421.39,351.64L421.91,351.5L422.42,351.34L422.94,351.19L423.45,351.02L423.97,350.86L424.48,350.68L425,350.5L425.5,350.31L426,350.11L426.5,349.9L427,349.68L427.5,349.45L428,349.22L428.5,348.98L429,348.73L429.5,348.49L430,348.24L430.5,348L431,347.76L431.5,347.53L432,347.3L432.5,347.08L433,346.86L433.5,346.64L434,346.42L434.5,346.2L435,345.99L435.5,345.77L436,345.55L436.5,345.34L437,345.12L437.5,344.91L438,344.69L438.5,344.47L439,344.25L439.5,344.02L440,343.8L440.5,343.57L441.01,343.35L441.51,343.13L442.02,342.9L442.52,342.68L443.03,342.46L443.53,342.24L444.04,342.02L444.54,341.79L445.05,341.57L445.55,341.34L446.05,341.11L446.56,340.88L447.06,340.65L447.57,340.41L448.07,340.16L448.58,339.92L449.08,339.67L449.59,339.41L450.09,339.14L450.6,338.88L451.1,338.6L451.6,338.32L452.11,338.04L452.61,337.75L453.12,337.46L453.62,337.17L454.13,336.88L454.63,336.58L455.14,336.27L455.64,335.96L456.15,335.64L456.65,335.31L457.15,334.98L457.66,334.64L458.16,334.29L458.67,333.93L459.17,333.56L459.68,333.18L460.18,332.78L460.69,332.38L461.19,331.97L461.7,331.54L462.2,331.1L462.72,330.63L463.25,330.13L463.77,329.62L464.29,329.09L464.82,328.54L465.34,327.96L465.86,327.37L466.39,326.75L466.91,326.1L467.44,325.43L467.96,324.74L468.48,324.02L469.01,323.27L469.53,322.5L470.05,321.69L470.58,320.86L471.1,320L471.61,319.13L472.12,318.22L472.63,317.26L473.14,316.24L473.65,315.15L474.15,313.99L474.66,312.74L475.17,311.4L475.68,309.95L476.19,308.38L476.7,306.7L477.28,304.52L477.86,301.92L478.44,298.85L479.02,295.27L479.6,291.1L480.1,286.51L480.6,280.53L481.1,273.3L481.65,262.73L482.2,249.3L482.75,263.26L483.3,273.3L483.88,279.29L484.45,283.81L485.03,287.52L485.6,291.1L486.16,294.72L486.72,298.2L487.28,301.44L487.84,304.31L488.4,306.7L488.94,308.67L489.49,310.47L490.03,312.13L490.58,313.66L491.12,315.08L491.67,316.41L492.21,317.66L492.76,318.85L493.3,320L493.82,321.05L494.33,322.06L494.85,323.02L495.36,323.95L495.88,324.84L496.39,325.7L496.91,326.53L497.42,327.34L497.94,328.12L498.45,328.89L498.97,329.64L499.48,330.37L500,331.1L500.53,331.84L501.06,332.56L501.59,333.27L502.12,333.97L502.65,334.65L503.18,335.31L503.72,335.96L504.25,336.59L504.78,337.21L505.31,337.81L505.84,338.39L506.37,338.95L506.9,339.5L507.42,340.01L507.94,340.48L508.46,340.94L508.98,341.36L509.5,341.78L510.02,342.18L510.54,342.58L511.06,342.98L511.58,343.38L512.1,343.79L512.62,344.22L513.14,344.67L513.66,345.15L514.18,345.66L514.7,346.2L515.28,346.87L515.86,347.61L516.44,348.41L517.02,349.25L517.6,350.1" stroke="#ff5252"/>
<path d="M308.4,336.2L308.9,336.19L309.4,336.19L309.9,336.18L310.4,336.18L310.91,336.17L311.41,336.17L311.91,336.16L312.41,336.15L312.91,336.15L313.41,336.14L313.91,336.14L314.41,336.13L314.91,336.13L315.41,336.13L315.92,336.12L316.42,336.12L316.92,336.11L317.42,336.11L317.92,336.1L318.42,336.1L318.92,336.1L319.42,336.09L319.92,336.09L320.42,336.09L320.93,336.08L321.43,336.08L321.93,336.08L322.43,336.07L322.93,336.07L323.43,336.07L323.93,336.06L324.43,336.06L324.93,336.06L325.44,336.05L325.94,336.05L326.44,336.05L326.94,336.05L327.44,336.05L327.94,336.04L328.44,336.04L328.94,336.04L329.44,336.04L329.94,336.03L330.45,336.03L330.95,336.03L331.45,336.03L331.95,336.03L332.45,336.03L332.95,336.02L333.45,336.02L333.95,336.02L334.45,336.02L334.95,336.02L335.46,336.02L335.96,336.02L336.46,336.02L336.96,336.01L337.46,336.01L337.96,336.01L338.46,336.01L338.96,336.01L339.46,336.01L339.96,336.01L340.47,336.01L340.97,336.01L341.47,336.01L341.97,336.01L342.47,336.01L342.97,336L343.47,336L343.97,336L344.47,336L344.98,336L345.48,336L345.98,336L346.48,336L346.98,336L347.48,336L347.98,336L348.48,336L348.98,336L349.48,336L349.99,336L350.49,336L350.99,336L351.49,336L351.99,336L352.49,336L352.99,336L353.49,336L353.99,336L354.49,336L355,336L355.5,336L356,336L356.5,336L357,336L357.51,336L358.01,336L358.52,336.01L359.03,336.02L359.53,336.03L360.04,336.04L360.55,336.05L361.06,336.06L361.56,336.08L362.07,336.1L362.58,336.12L363.08,336.14L363.59,336.16L364.1,336.19L364.6,336.21L365.11,336.24L365.62,336.27L366.12,336.3L366.63,336.33L367.14,336.36L367.64,336.4L368.15,336.43L368.66,336.47L369.17,336.5L369.67,336.54L370.18,336.58L370.69,336.62L371.19,336.66L371.7,336.7L372.22,336.75L372.74,336.8L373.26,336.87L373.77,336.94L374.29,337.02L374.81,337.11L375.33,337.21L375.85,337.31L376.37,337.42L376.89,337.53L377.41,337.65L377.93,337.78L378.44,337.9L378.96,338.03L379.48,338.16L380,338.3L380.52,338.44L381.04,338.6L381.56,338.77L382.07,338.95L382.59,339.14L383.11,339.34L383.63,339.55L384.15,339.77L384.67,339.99L385.19,340.23L385.71,340.46L386.23,340.7L386.74,340.95L387.26,341.2L387.78,341.45L388.3,341.7L388.82,341.96L389.35,342.23L389.88,342.51L390.4,342.8L390.93,343.1L391.45,343.4L391.98,343.72L392.5,344.03L393.02,344.36L393.55,344.68L394.07,345.02L394.6,345.35L395.12,345.69L395.65,346.02L396.18,346.36L396.7,346.7L397.22,347.04L397.74,347.39L398.26,347.75L398.77,348.12L399.29,348.5L399.81,348.88L400.33,349.26L400.85,349.64L401.37,350.02L401.89,350.4L402.41,350.77L402.93,351.14L403.44,351.5L403.96,351.84L404.48,352.18L405,352.5L405.5,352.79L406,353.08L406.5,353.35L407,353.62L407.5,353.88L408,354.14L408.5,354.4L409,354.66L409.5,354.93L410,355.2L410.52,355.49L411.03,355.81L411.55,356.13L412.06,356.46L412.58,356.8L413.09,357.13L413.61,357.46L414.12,357.77L414.64,358.07L415.15,358.35L415.67,358.6L416.18,358.82L416.7,359L417.22,359.16L417.74,359.32L418.26,359.47L418.77,359.61L419.29,359.75L419.81,359.88L420.33,360L420.85,360.12L421.37,360.23L421.89,360.33L422.41,360.43L422.93,360.52L423.44,360.6L423.96,360.67L424.48,360.74L425,360.8L425.5,360.85L426,360.9L426.5,360.95L427,361L427.5,361.04L428,361.08L428.5,361.12L429,361.16L429.5,361.2L430,361.23L430.5,361.27L431,361.3L431.5,361.33L432,361.36L432.5,361.39L433,361.42L433.5,361.45L434,361.48L434.5,361.5L435,361.53L435.5,361.56L436,361.58L436.5,361.61L437,361.64L437.5,361.66L438,361.69L438.5,361.72L439,361.74L439.5,361.77L440,361.8L440.5,361.83L441.01,361.86L441.51,361.88L442.01,361.91L442.52,361.94L443.02,361.96L443.52,361.98L444.03,362.01L444.53,362.03L445.03,362.06L445.54,362.08L446.04,362.1L446.54,362.12L447.05,362.15L447.55,362.17L448.05,362.19L448.55,362.22L449.06,362.24L449.56,362.26L450.06,362.29L450.57,362.31L451.07,362.34L451.57,362.36L452.08,362.39L452.58,362.42L453.08,362.44L453.59,362.47L454.09,362.5L454.59,362.53L455.1,362.57L455.6,362.6L456.11,362.63L456.63,362.67L457.14,362.71L457.65,362.74L458.17,362.78L458.68,362.82L459.19,362.87L459.71,362.91L460.22,362.96L460.73,363.01L461.25,363.06L461.76,363.11L462.27,363.17L462.79,363.23L463.3,363.3L463.82,363.38L464.34,363.46L464.86,363.56L465.38,363.67L465.9,363.78L466.42,363.91L466.94,364.04L467.46,364.18L467.98,364.32L468.5,364.46L469.02,364.61L469.54,364.76L470.06,364.91L470.58,365.05L471.1,365.2L471.62,365.34L472.14,365.49L472.67,365.63L473.19,365.78L473.71,365.93L474.23,366.1L474.76,366.28L475.28,366.48L475.8,366.7L476.32,366.94L476.83,367.2L477.35,367.51L477.87,367.86L478.38,368.29L478.9,368.8L479.5,369.77L480.1,371.1L480.7,377.3L481.2,386.7L482,390.5L484.3,392.1L485.9,391.3L488.2,398.3L490.5,392.9L492.9,395.2L495.2,394.7L497.5,392.9L499.1,391.3L501.4,394.4L503.8,395.2L506.9,398.3L509.2,392.1L511.5,389.5L513.9,389L516.2,389.8L517.6,391.3" stroke="#4cf0f0"/>
<path d="M308.4,336.2L308.9,336.2L309.4,336.2L309.9,336.2L310.4,336.2L310.91,336.2L311.41,336.2L311.91,336.2L312.41,336.2L312.91,336.2L313.41,336.2L313.91,336.2L314.41,336.2L314.91,336.2L315.41,336.19L315.92,336.19L316.42,336.19L316.92,336.19L317.42,336.19L317.92,336.19L318.42,336.19L318.92,336.19L319.42,336.19L319.92,336.19L320.42,336.18L320.93,336.18L321.43,336.18L321.93,336.18L322.43,336.18L322.93,336.18L323.43,336.18L323.93,336.17L324.43,336.17L324.93,336.17L325.44,336.17L325.94,336.17L326.44,336.16L326.94,336.16L327.44,336.16L327.94,336.16L328.44,336.15L328.94,336.15L329.44,336.15L329.94,336.15L330.45,336.14L330.95,336.14L331.45,336.14L331.95,336.14L332.45,336.13L332.95,336.13L333.45,336.13L333.95,336.12L334.45,336.12L334.95,336.12L335.46,336.12L335.96,336.11L336.46,336.11L336.96,336.1L337.46,336.1L337.96,336.1L338.46,336.09L338.96,336.09L339.46,336.09L339.96,336.08L340.47,336.08L340.97,336.07L341.47,336.07L341.97,336.07L342.47,336.06L342.97,336.06L343.47,336.05L343.97,336.05L344.47,336.04L344.98,336.04L345.48,336.03L345.98,336.03L346.48,336.02L346.98,336.02L347.48,336.01L347.98,336.01L348.48,336L348.98,336L349.48,335.99L349.99,335.99L350.49,335.98L350.99,335.98L351.49,335.97L351.99,335.96L352.49,335.96L352.99,335.95L353.49,335.95L353.99,335.94L354.49,335.93L355,335.93L355.5,335.92L356,335.91L356.5,335.91L357,335.9L357.51,335.89L358.01,335.88L358.52,335.87L359.03,335.85L359.53,335.83L360.04,335.81L360.55,335.78L361.06,335.75L361.56,335.72L362.07,335.69L362.58,335.66L363.08,335.62L363.59,335.58L364.1,335.54L364.6,335.49L365.11,335.45L365.62,335.4L366.12,335.35L366.63,335.3L367.14,335.25L367.64,335.19L368.15,335.14L368.66,335.08L369.17,335.02L369.67,334.96L370.18,334.89L370.69,334.83L371.19,334.77L371.7,334.7L372.22,334.62L372.74,334.53L373.26,334.43L373.77,334.31L374.29,334.19L374.81,334.05L375.33,333.91L375.85,333.76L376.37,333.6L376.89,333.44L377.41,333.28L377.93,333.12L378.44,332.96L378.96,332.8L379.48,332.65L380,332.5L380.52,332.35L381.04,332.2L381.56,332.04L382.07,331.87L382.59,331.71L383.11,331.54L383.63,331.38L384.15,331.21L384.67,331.04L385.19,330.88L385.71,330.72L386.23,330.56L386.74,330.41L387.26,330.27L387.78,330.13L388.3,330L388.82,329.87L389.35,329.75L389.88,329.63L390.4,329.52L390.93,329.4L391.45,329.29L391.98,329.19L392.5,329.08L393.02,328.98L393.55,328.88L394.07,328.78L394.6,328.68L395.12,328.58L395.65,328.49L396.18,328.39L396.7,328.3L397.22,328.21L397.74,328.12L398.26,328.02L398.77,327.93L399.29,327.84L399.81,327.75L400.33,327.67L400.85,327.58L401.37,327.5L401.89,327.42L402.41,327.34L402.93,327.26L403.44,327.19L403.96,327.12L404.48,327.06L405,327L405.52,326.95L406.04,326.89L406.56,326.85L407.07,326.8L407.59,326.76L408.11,326.72L408.63,326.68L409.15,326.64L409.67,326.61L410.19,326.57L410.71,326.53L411.23,326.49L411.74,326.44L412.26,326.4L412.78,326.35L413.3,326.3L413.81,326.25L414.32,326.19L414.83,326.14L415.33,326.08L415.84,326.02L416.35,325.96L416.86,325.9L417.37,325.83L417.88,325.77L418.39,325.7L418.9,325.64L419.4,325.57L419.91,325.5L420.42,325.42L420.93,325.35L421.44,325.27L421.95,325.2L422.46,325.12L422.97,325.04L423.47,324.96L423.98,324.87L424.49,324.79L425,324.7L425.5,324.61L426,324.52L426.5,324.43L427,324.34L427.5,324.24L428,324.14L428.5,324.04L429,323.93L429.5,323.83L430,323.72L430.5,323.61L431,323.5L431.5,323.38L432,323.26L432.5,323.14L433,323.02L433.5,322.9L434,322.77L434.5,322.64L435,322.51L435.5,322.38L436,322.25L436.5,322.11L437,321.97L437.5,321.83L438,321.69L438.5,321.55L439,321.4L439.5,321.25L440,321.1L440.5,320.94L441.01,320.78L441.51,320.61L442.02,320.43L442.52,320.24L443.03,320.05L443.53,319.86L444.04,319.66L444.54,319.45L445.05,319.25L445.55,319.04L446.05,318.82L446.56,318.61L447.06,318.39L447.57,318.18L448.07,317.96L448.58,317.75L449.08,317.53L449.59,317.32L450.09,317.11L450.6,316.9L451.1,316.7L451.6,316.5L452.11,316.29L452.61,316.09L453.12,315.89L453.62,315.68L454.13,315.48L454.63,315.27L455.14,315.07L455.64,314.86L456.15,314.66L456.65,314.45L457.15,314.24L457.66,314.04L458.16,313.83L458.67,313.63L459.17,313.42L459.68,313.22L460.18,313.01L460.69,312.81L461.19,312.61L461.7,312.4L462.2,312.2L462.7,312L463.21,311.81L463.71,311.62L464.22,311.43L464.72,311.24L465.23,311.06L465.73,310.88L466.24,310.7L466.74,310.52L467.25,310.33L467.75,310.15L468.25,309.96L468.76,309.77L469.26,309.58L469.77,309.38L470.27,309.18L470.78,308.97L471.28,308.75L471.79,308.53L472.29,308.29L472.8,308.05L473.3,307.8L473.82,307.53L474.33,307.24L474.85,306.94L475.36,306.62L475.88,306.29L476.39,305.95L476.91,305.59L477.42,305.23L477.94,304.86L478.45,304.48L478.97,304.09L479.48,303.7L480,303.3L481.1,295.6L482.2,280L483.3,266.7L484.4,257.8L485.3,252L486.2,249.3L487.8,255.6L488.9,258.9L490.7,251.1L493.3,253.3L495.6,254.4L497.3,251.1L499.6,249.3L501.1,252.2L503.3,256.7L505.6,257.8L507.8,263.3L510,257.8L512.2,254.4L514.4,256L516.7,262.2L517.6,267" stroke="#ff4dff"/>
</g>
<line x1="413" y1="407.3" x2="413" y2="240.3" stroke="#c4c4c4" stroke-width="0.9" stroke-dasharray="5,3"/>
<path d="M308.6,240.3 V407.3 H517.6 M308.6,240.3 H517.6" fill="none" stroke="#4a4a4a" stroke-width="0.9"/>
<line x1="517.6" y1="240.3" x2="517.6" y2="407.3" stroke="#4da3dc" stroke-width="0.8"/>
<text x="308.4" y="416.8" font-size="6.6" fill="#333333" text-anchor="middle" font-family='"Liberation Sans", Arial, Helvetica, sans-serif' stroke="#333333" stroke-width="0.08">-0.5</text>
<text x="329.32" y="416.8" font-size="6.6" fill="#333333" text-anchor="middle" font-family='"Liberation Sans", Arial, Helvetica, sans-serif' stroke="#333333" stroke-width="0.08">-0.4</text>
<text x="350.24" y="416.8" font-size="6.6" fill="#333333" text-anchor="middle" font-family='"Liberation Sans", Arial, Helvetica, sans-serif' stroke="#333333" stroke-width="0.08">-0.3</text>
<text x="371.16" y="416.8" font-size="6.6" fill="#333333" text-anchor="middle" font-family='"Liberation Sans", Arial, Helvetica, sans-serif' stroke="#333333" stroke-width="0.08">-0.2</text>
<text x="392.08" y="416.8" font-size="6.6" fill="#333333" text-anchor="middle" font-family='"Liberation Sans", Arial, Helvetica, sans-serif' stroke="#333333" stroke-width="0.08">-0.1</text>
<text x="413" y="416.8" font-size="6.6" fill="#333333" text-anchor="middle" font-family='"Liberation Sans", Arial, Helvetica, sans-serif' stroke="#333333" stroke-width="0.08">0</text>
<text x="433.92" y="416.8" font-size="6.6" fill="#333333" text-anchor="middle" font-family='"Liberation Sans", Arial, Helvetica, sans-serif' stroke="#333333" stroke-width="0.08">0.1</text>
<text x="454.84" y="416.8" font-size="6.6" fill="#333333" text-anchor="middle" font-family='"Liberation Sans", Arial, Helvetica, sans-serif' stroke="#333333" stroke-width="0.08">0.2</text>
<text x="475.76" y="416.8" font-size="6.6" fill="#333333" text-anchor="middle" font-family='"Liberation Sans", Arial, Helvetica, sans-serif' stroke="#333333" stroke-width="0.08">0.3</text>
<text x="496.68" y="416.8" font-size="6.6" fill="#333333" text-anchor="middle" font-family='"Liberation Sans", Arial, Helvetica, sans-serif' stroke="#333333" stroke-width="0.08">0.4</text>
<text x="517.6" y="416.8" font-size="6.6" fill="#333333" text-anchor="middle" font-family='"Liberation Sans", Arial, Helvetica, sans-serif' stroke="#333333" stroke-width="0.08">0.5</text>
<path d="M308.4,407.3v-2M308.4,240.3v2M329.32,407.3v-2M329.32,240.3v2M350.24,407.3v-2M350.24,240.3v2M371.16,407.3v-2M371.16,240.3v2M392.08,407.3v-2M392.08,240.3v2M413,407.3v-2M413,240.3v2M433.92,407.3v-2M433.92,240.3v2M454.84,407.3v-2M454.84,240.3v2M475.76,407.3v-2M475.76,240.3v2M496.68,407.3v-2M496.68,240.3v2M517.6,407.3v-2M517.6,240.3v2M308.6,406.12h1.1M308.6,402.62h1.1M308.6,399.58h1.1M308.6,396.9h1.1M308.6,394.5h2.0M308.6,378.73h1.1M308.6,369.5h1.1M308.6,362.95h1.1M308.6,357.87h1.1M308.6,353.72h1.1M308.6,350.22h1.1M308.6,347.18h1.1M308.6,344.5h1.1M308.6,342.1h2.0M308.6,326.33h1.1M308.6,317.1h1.1M308.6,310.55h1.1M308.6,305.47h1.1M308.6,301.32h1.1M308.6,297.82h1.1M308.6,294.78h1.1M308.6,292.1h1.1M308.6,289.7h2.0M308.6,273.93h1.1M308.6,264.7h1.1M308.6,258.15h1.1M308.6,253.07h1.1M308.6,248.92h1.1M308.6,245.42h1.1M308.6,242.38h1.1" stroke="#4a4a4a" stroke-width="0.7" fill="none"/>
<text x="305.6" y="397.4" font-size="6.5" fill="#222222" stroke="#222222" stroke-width="0.15" text-anchor="end" font-family='"Liberation Sans", Arial, Helvetica, sans-serif'>10<tspan font-size="4.8" dy="-2.9">3</tspan></text>
<text x="305.6" y="345" font-size="6.5" fill="#222222" stroke="#222222" stroke-width="0.15" text-anchor="end" font-family='"Liberation Sans", Arial, Helvetica, sans-serif'>10<tspan font-size="4.8" dy="-2.9">4</tspan></text>
<text x="305.6" y="292.6" font-size="6.5" fill="#222222" stroke="#222222" stroke-width="0.15" text-anchor="end" font-family='"Liberation Sans", Arial, Helvetica, sans-serif'>10<tspan font-size="4.8" dy="-2.9">5</tspan></text>
<text x="520.1" y="410.1" font-size="6.6" fill="#2b8fd6" text-anchor="start" font-family='"Liberation Sans", Arial, Helvetica, sans-serif' stroke="#2b8fd6" stroke-width="0.15">-200</text>
<text x="520.1" y="389.26" font-size="6.6" fill="#2b8fd6" text-anchor="start" font-family='"Liberation Sans", Arial, Helvetica, sans-serif' stroke="#2b8fd6" stroke-width="0.15">-150</text>
<text x="520.1" y="368.43" font-size="6.6" fill="#2b8fd6" text-anchor="start" font-family='"Liberation Sans", Arial, Helvetica, sans-serif' stroke="#2b8fd6" stroke-width="0.15">-100</text>
<text x="520.1" y="347.59" font-size="6.6" fill="#2b8fd6" text-anchor="start" font-family='"Liberation Sans", Arial, Helvetica, sans-serif' stroke="#2b8fd6" stroke-width="0.15">-50</text>
<text x="520.1" y="326.75" font-size="6.6" fill="#2b8fd6" text-anchor="start" font-family='"Liberation Sans", Arial, Helvetica, sans-serif' stroke="#2b8fd6" stroke-width="0.15">0</text>
<text x="520.1" y="305.91" font-size="6.6" fill="#2b8fd6" text-anchor="start" font-family='"Liberation Sans", Arial, Helvetica, sans-serif' stroke="#2b8fd6" stroke-width="0.15">50</text>
<text x="520.1" y="285.08" font-size="6.6" fill="#2b8fd6" text-anchor="start" font-family='"Liberation Sans", Arial, Helvetica, sans-serif' stroke="#2b8fd6" stroke-width="0.15">100</text>
<text x="520.1" y="264.24" font-size="6.6" fill="#2b8fd6" text-anchor="start" font-family='"Liberation Sans", Arial, Helvetica, sans-serif' stroke="#2b8fd6" stroke-width="0.15">150</text>
<text x="520.1" y="243.4" font-size="6.6" fill="#2b8fd6" text-anchor="start" font-family='"Liberation Sans", Arial, Helvetica, sans-serif' stroke="#2b8fd6" stroke-width="0.15">200</text>
<path d="M517.6,407h-2M517.6,386.16h-2M517.6,365.32h-2M517.6,344.49h-2M517.6,323.65h-2M517.6,302.81h-2M517.6,281.98h-2M517.6,261.14h-2M517.6,240.3h-2" stroke="#4da3dc" stroke-width="0.7" fill="none"/>
<text transform="translate(316.1,236.7) scale(0.985,1.12)" font-size="7.3" fill="#2a2aff" stroke="#2a2aff" stroke-width="0.22" font-family='"Liberation Sans", Arial, Helvetica, sans-serif'>Rm =1500.00 Ω</text>
<text transform="translate(372.7,236.7) scale(0.985,1.12)" font-size="7.3" fill="#2a2aff" stroke="#2a2aff" stroke-width="0.22" font-family='"Liberation Sans", Arial, Helvetica, sans-serif'>Lm =9.00 mH</text>
<text transform="translate(421.3,236.7) scale(0.985,1.12)" font-size="7.3" fill="#2a2aff" stroke="#2a2aff" stroke-width="0.22" font-family='"Liberation Sans", Arial, Helvetica, sans-serif'>Cm =28.00 fF</text>
<text transform="translate(470.7,236.7) scale(0.985,1.12)" font-size="7.3" fill="#2a2aff" stroke="#2a2aff" stroke-width="0.22" font-family='"Liberation Sans", Arial, Helvetica, sans-serif'>Cp =6.00 pF</text>
<text transform="translate(291,323.65) rotate(-90)" font-size="7.3" fill="#222222" stroke="#222222" stroke-width="0.22" text-anchor="middle" font-family='"Liberation Sans", Arial, Helvetica, sans-serif'>|Z| (Ω)</text>
<text transform="translate(543.6,323.65) rotate(-90)" font-size="7.3" fill="#2b8fd6" stroke="#2b8fd6" stroke-width="0.22" text-anchor="middle" font-family='"Liberation Sans", Arial, Helvetica, sans-serif'>Phase (Degrees)</text>
<text x="413" y="427.6" font-size="7.2" fill="#1a1a1a" text-anchor="middle" font-family='"DejaVu Serif", "Liberation Serif", serif' font-weight="bold">γ</text>
<text x="411.2" y="444" font-size="10.5" fill="#111" text-anchor="middle" font-family='"Liberation Serif", "Times New Roman", serif' font-weight="bold">(d)</text>
<rect x="313.5" y="245.4" width="41.3" height="53.4" fill="#fff" stroke="#8a8a8a" stroke-width="0.9"/>
<line x1="315.5" y1="252" x2="335.3" y2="252" stroke="#6363ff" stroke-width="1.5" stroke-opacity="0.72"/>
<text transform="translate(336.9,254) scale(1,1.2)" font-size="6.0" fill="#222222" stroke="#222222" stroke-width="0.16" font-family='"Liberation Sans", Arial, Helvetica, sans-serif'>Z</text>
<text x="340.77" y="256.6" font-size="4.6" fill="#222222" stroke="#222222" stroke-width="0.1" font-family='"Liberation Sans", Arial, Helvetica, sans-serif'>min</text>
<line x1="315.5" y1="263.1" x2="335.3" y2="263.1" stroke="#ff5252" stroke-width="1.5" stroke-opacity="0.72"/>
<text transform="translate(336.9,265.1) scale(1,1.2)" font-size="6.0" fill="#222222" stroke="#222222" stroke-width="0.16" font-family='"Liberation Sans", Arial, Helvetica, sans-serif'>Z</text>
<text x="340.77" y="267.7" font-size="4.6" fill="#222222" stroke="#222222" stroke-width="0.1" font-family='"Liberation Sans", Arial, Helvetica, sans-serif'>max</text>
<line x1="315.5" y1="274" x2="335.3" y2="274" stroke="#4cf0f0" stroke-width="1.5" stroke-opacity="0.72"/>
<text transform="translate(336.9,276) scale(1,1.2)" font-size="6.0" fill="#222222" stroke="#222222" stroke-width="0.16" font-family='"Liberation Sans", Arial, Helvetica, sans-serif'>Ph</text>
<text x="344.44" y="278.6" font-size="4.6" fill="#222222" stroke="#222222" stroke-width="0.1" font-family='"Liberation Sans", Arial, Helvetica, sans-serif'>min</text>
<line x1="315.5" y1="284.7" x2="335.3" y2="284.7" stroke="#ff4dff" stroke-width="1.5" stroke-opacity="0.72"/>
<text transform="translate(336.9,286.7) scale(1,1.2)" font-size="6.0" fill="#222222" stroke="#222222" stroke-width="0.16" font-family='"Liberation Sans", Arial, Helvetica, sans-serif'>Ph</text>
<text x="344.44" y="289.3" font-size="4.6" fill="#222222" stroke="#222222" stroke-width="0.1" font-family='"Liberation Sans", Arial, Helvetica, sans-serif'>max</text>
<line x1="315.5" y1="295.2" x2="335.3" y2="295.2" stroke="#707070" stroke-width="0.9" stroke-dasharray="4.8,3.2"/>
<text x="336.9" y="297.4" font-size="5.9" fill="#222222" text-anchor="start" font-family='"Liberation Sans", Arial, Helvetica, sans-serif' stroke="#222222" stroke-width="0.12">data1</text>
</svg></body></html>
